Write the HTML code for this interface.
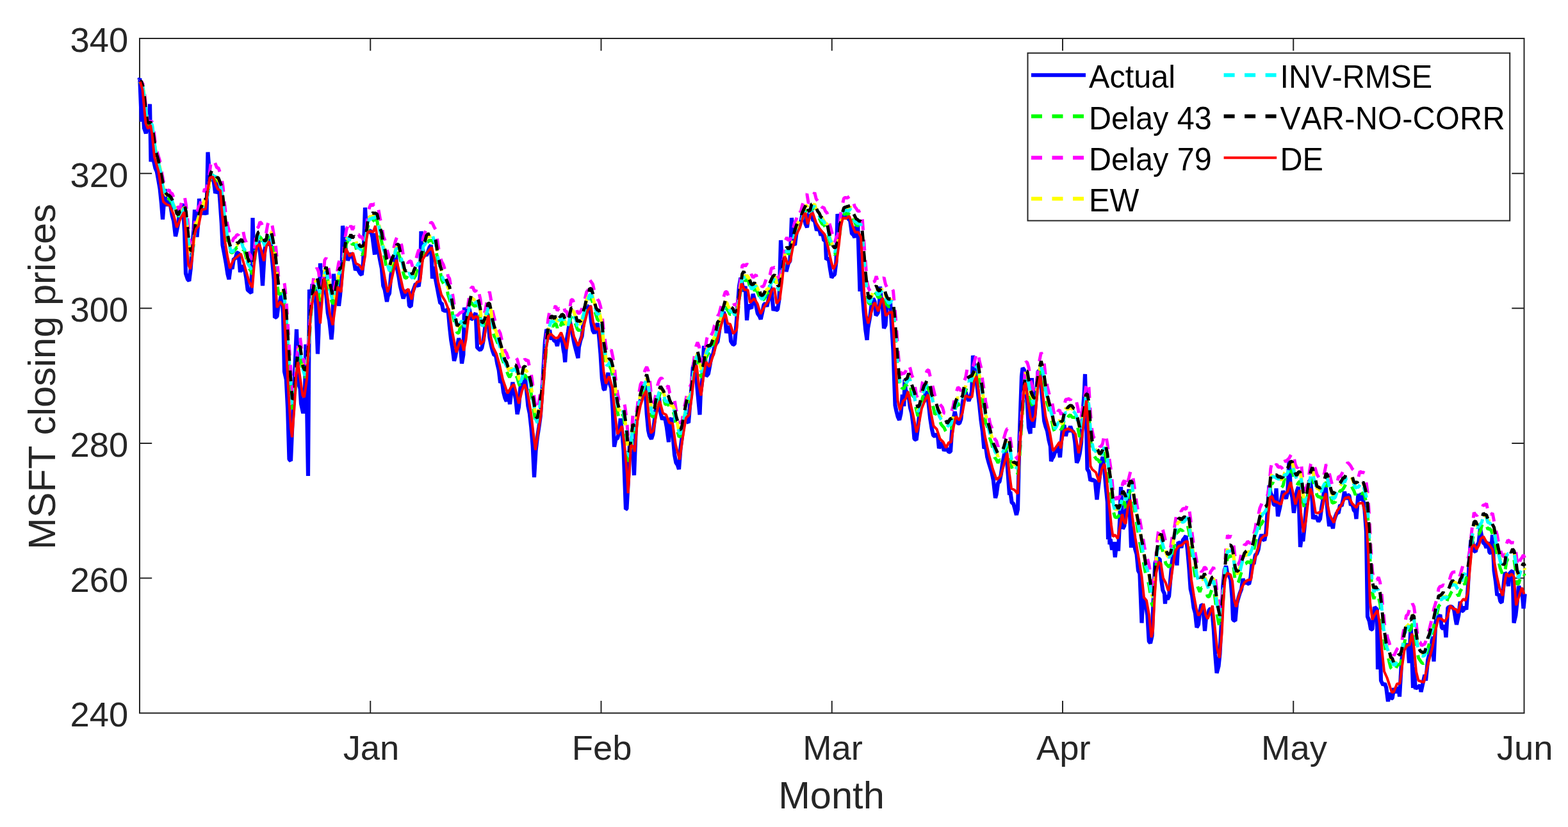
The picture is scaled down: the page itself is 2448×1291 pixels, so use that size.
<!DOCTYPE html>
<html lang="en"><head><meta charset="utf-8"><title>MSFT closing prices</title>
<style>html,body{margin:0;padding:0;background:#fff;}body{width:2448px;height:1291px;overflow:hidden;}svg{display:block;}text{font-family:"Liberation Sans",sans-serif;font-kerning:none;}</style></head><body>
<svg width="2448" height="1291" viewBox="0 0 2448 1291">
<rect x="0" y="0" width="2448" height="1291" fill="#ffffff"/>
<defs><clipPath id="clip"><rect x="212" y="60" width="2172.5" height="1053.2"/></clipPath></defs>
<g stroke="#262626" stroke-width="2" fill="none">
<rect x="218" y="60" width="2161.5" height="1053.2"/>
<path d="M578.25 1113.2 V1094 M578.25 60 V79.2"/>
<path d="M938.50 1113.2 V1094 M938.50 60 V79.2"/>
<path d="M1298.75 1113.2 V1094 M1298.75 60 V79.2"/>
<path d="M1659.00 1113.2 V1094 M1659.00 60 V79.2"/>
<path d="M2019.25 1113.2 V1094 M2019.25 60 V79.2"/>
<path d="M218 270.64 H237.2 M2379.5 270.64 H2360.3"/>
<path d="M218 481.28 H237.2 M2379.5 481.28 H2360.3"/>
<path d="M218 691.92 H237.2 M2379.5 691.92 H2360.3"/>
<path d="M218 902.56 H237.2 M2379.5 902.56 H2360.3"/>
</g>
<g clip-path="url(#clip)" fill="none" stroke-linejoin="bevel" stroke-linecap="butt">
<path d="M217.0 125.0 L218.3 122.3 L221.0 190.0 L223.1 167.5 L225.0 200.0 L227.9 208.2 L230.3 196.2 L232.7 188.6 L234.0 162.5 L235.5 252.5 L237.5 229.6 L239.9 251.1 L242.5 262.5 L244.8 267.7 L247.2 280.6 L249.6 294.5 L252.0 317.6 L254.0 342.5 L257.5 295.0 L259.2 321.7 L261.6 313.6 L264.0 318.1 L266.4 322.2 L268.8 336.5 L271.2 345.1 L274.0 369.0 L276.0 360.0 L278.4 347.8 L280.8 325.3 L283.2 323.2 L285.6 318.1 L288.1 362.3 L290.0 427.0 L292.9 435.9 L295.3 438.5 L297.7 419.4 L300.1 384.5 L302.5 358.2 L304.0 327.5 L307.5 370.0 L309.7 344.3 L311.0 310.0 L312.1 332.4 L314.5 330.7 L316.9 334.4 L319.3 328.1 L322.5 335.0 L324.5 237.5 L326.5 264.4 L328.9 276.0 L331.4 277.6 L333.8 283.6 L336.2 301.5 L338.6 296.7 L341.0 283.6 L343.4 313.3 L345.8 347.7 L347.5 382.5 L350.6 398.7 L353.0 412.0 L355.4 427.7 L357.5 436.0 L360.2 415.0 L362.6 419.8 L365.0 403.9 L367.4 403.9 L369.8 395.1 L372.2 394.0 L375.0 425.0 L377.1 414.1 L379.5 421.2 L381.9 419.8 L384.3 433.4 L386.7 452.6 L389.1 454.6 L392.5 457.5 L394.5 340.0 L396.3 403.8 L398.7 382.2 L401.1 374.2 L403.5 377.5 L405.9 393.7 L408.3 417.6 L410.0 446.0 L413.1 391.1 L415.5 380.2 L417.9 368.9 L420.3 382.3 L422.8 382.0 L425.2 408.4 L427.6 435.9 L429.0 496.0 L432.4 494.1 L434.8 475.6 L437.2 469.6 L439.6 458.3 L442.0 489.6 L444.0 580.0 L446.8 592.2 L449.2 639.1 L451.5 717.0 L454.0 719.4 L456.4 663.6 L458.8 614.9 L461.2 557.0 L463.0 514.0 L466.0 599.5 L468.5 606.5 L470.0 630.0 L473.3 645.2 L475.7 626.6 L477.5 537.5 L481.0 743.0 L483.0 452.0 L485.3 466.0 L487.7 443.6 L490.1 447.8 L492.5 454.3 L496.0 552.5 L497.3 521.7 L500.0 411.0 L502.1 454.2 L504.5 422.5 L506.9 441.2 L509.3 460.1 L511.8 488.6 L514.2 500.2 L517.5 530.0 L519.0 513.6 L521.0 427.5 L523.8 464.5 L526.2 442.5 L529.0 477.5 L531.0 461.1 L533.4 430.9 L535.0 352.5 L538.2 375.0 L540.6 395.5 L543.0 406.4 L545.4 401.0 L547.8 395.4 L550.2 399.3 L552.6 407.7 L555.0 422.0 L557.5 416.3 L559.9 422.7 L562.3 427.1 L564.7 429.1 L567.1 409.3 L570.0 324.0 L571.9 356.1 L574.3 363.0 L576.7 360.8 L579.1 360.3 L581.5 369.9 L585.0 397.5 L586.3 364.2 L588.7 379.8 L591.1 394.1 L593.5 407.4 L595.9 419.2 L598.3 446.2 L600.7 452.4 L604.0 471.0 L605.6 462.4 L608.0 457.8 L610.4 429.0 L612.8 418.7 L615.2 404.0 L617.6 396.3 L620.0 419.4 L622.4 431.0 L624.8 446.3 L627.2 456.0 L629.6 466.0 L632.0 458.7 L634.4 454.2 L636.8 454.1 L639.0 477.5 L641.6 478.5 L644.0 456.3 L646.5 449.6 L648.9 443.2 L651.3 444.1 L653.7 447.1 L656.1 428.5 L657.5 361.0 L660.9 398.7 L663.3 396.3 L665.7 399.1 L668.1 393.3 L670.5 386.3 L672.9 382.8 L675.0 435.0 L677.7 416.1 L680.1 436.3 L682.5 448.8 L684.9 461.6 L687.3 473.3 L689.7 473.3 L692.2 485.5 L694.6 484.3 L697.0 486.1 L699.4 481.8 L701.8 508.9 L704.2 530.6 L706.6 544.5 L709.0 563.4 L711.0 556.0 L713.8 540.5 L716.2 528.1 L718.6 536.9 L721.0 567.5 L723.4 553.5 L725.0 480.0 L728.2 498.9 L730.6 480.9 L733.0 483.3 L735.4 498.9 L737.9 496.8 L740.3 492.6 L742.7 488.6 L745.0 542.5 L747.5 544.6 L749.9 546.6 L752.3 543.0 L754.7 531.1 L757.1 512.5 L759.5 488.5 L761.9 493.8 L764.3 526.2 L766.7 538.5 L769.1 548.0 L771.5 554.3 L773.9 554.1 L776.3 567.7 L778.7 577.5 L781.1 597.6 L783.6 594.0 L786.0 611.9 L788.4 621.2 L790.8 626.6 L793.2 608.7 L796.0 631.0 L798.0 614.0 L800.4 596.8 L802.8 610.2 L805.2 623.5 L807.6 646.6 L810.0 635.0 L812.4 605.5 L814.8 600.3 L817.2 585.6 L819.6 588.8 L822.0 608.6 L824.4 633.9 L826.9 645.6 L829.3 667.2 L831.7 696.0 L834.0 745.0 L836.5 703.3 L838.9 682.6 L841.3 667.2 L843.7 650.0 L846.1 615.6 L848.5 573.8 L850.9 533.3 L853.3 514.2 L855.7 519.1 L858.1 515.2 L860.5 530.1 L862.9 524.8 L865.3 532.2 L867.7 532.5 L870.0 540.0 L872.6 528.9 L875.0 527.4 L877.4 529.5 L879.8 546.8 L881.0 552.5 L882.2 565.4 L884.6 530.8 L887.0 517.5 L889.4 501.2 L891.8 511.2 L894.2 523.6 L896.6 536.5 L899.0 545.7 L902.5 559.0 L903.8 542.1 L906.2 531.5 L908.6 524.7 L911.0 502.5 L913.4 492.1 L915.8 475.7 L918.3 487.2 L920.7 476.6 L923.1 502.4 L925.5 516.0 L927.9 520.2 L930.3 514.5 L932.7 504.4 L935.1 524.6 L937.5 552.3 L939.9 591.6 L942.3 606.6 L944.0 609.0 L947.1 592.5 L949.5 582.0 L951.9 599.0 L954.3 605.3 L956.7 640.5 L959.0 697.5 L961.5 684.9 L964.0 684.6 L966.4 675.2 L968.8 653.4 L971.2 673.7 L973.6 703.7 L977.0 795.0 L978.4 794.3 L980.8 750.6 L983.2 687.7 L985.6 701.2 L988.0 706.8 L990.0 742.0 L992.8 668.2 L995.2 644.3 L997.6 629.5 L1000.0 624.7 L1002.4 614.4 L1004.8 601.0 L1007.3 603.5 L1009.7 645.9 L1012.1 671.8 L1014.0 680.0 L1016.9 685.4 L1019.3 678.0 L1021.7 657.2 L1024.1 634.2 L1026.5 632.5 L1028.9 620.6 L1031.3 644.4 L1034.0 655.0 L1036.1 651.4 L1038.5 654.4 L1040.9 667.0 L1044.0 690.0 L1045.7 657.4 L1048.1 652.2 L1050.5 680.1 L1053.0 709.6 L1055.4 722.2 L1057.8 725.8 L1060.0 732.5 L1062.6 698.6 L1065.0 680.7 L1067.4 660.8 L1069.8 652.9 L1072.2 657.2 L1075.0 660.0 L1077.0 634.0 L1079.4 607.8 L1081.8 573.9 L1084.2 564.2 L1086.6 583.8 L1089.0 610.9 L1092.5 647.5 L1093.8 614.7 L1096.2 595.2 L1099.0 540.0 L1101.1 559.7 L1102.5 587.5 L1105.9 583.5 L1108.3 570.4 L1110.7 555.4 L1113.1 553.4 L1115.5 541.1 L1117.9 536.7 L1120.3 533.5 L1122.7 518.5 L1125.1 500.2 L1127.5 488.7 L1129.9 487.0 L1132.3 496.8 L1134.0 520.0 L1137.1 509.3 L1139.5 513.7 L1141.0 532.5 L1144.4 537.9 L1146.8 537.3 L1149.2 511.1 L1151.6 478.0 L1154.0 446.7 L1156.4 433.6 L1158.8 444.2 L1161.2 455.0 L1163.6 446.8 L1166.0 500.0 L1168.4 475.9 L1170.8 478.7 L1173.2 481.7 L1175.6 458.9 L1178.0 467.3 L1180.4 477.3 L1182.8 489.2 L1186.0 494.0 L1187.7 498.3 L1190.1 487.9 L1192.5 475.8 L1194.9 473.6 L1197.3 478.5 L1199.7 468.0 L1202.1 445.6 L1204.5 454.6 L1207.5 485.0 L1209.3 479.3 L1211.7 484.5 L1214.1 482.9 L1216.5 466.7 L1219.0 375.0 L1221.3 411.0 L1223.7 400.3 L1226.1 404.6 L1227.5 424.0 L1230.9 411.0 L1233.4 407.4 L1236.0 340.0 L1238.2 379.9 L1241.0 382.5 L1243.0 366.6 L1245.4 357.3 L1247.8 353.3 L1250.2 346.7 L1252.6 334.7 L1255.0 332.5 L1257.4 349.2 L1260.0 355.0 L1262.2 338.9 L1264.6 327.5 L1267.0 330.0 L1269.4 344.4 L1271.8 343.9 L1275.0 360.0 L1276.6 356.9 L1279.1 358.0 L1281.5 367.6 L1283.9 362.5 L1286.3 375.4 L1288.7 375.5 L1290.0 405.0 L1293.5 403.0 L1296.0 420.0 L1298.3 433.4 L1300.7 429.9 L1303.1 428.5 L1305.5 408.7 L1307.5 334.0 L1310.3 352.5 L1312.7 340.4 L1315.1 340.8 L1317.5 336.3 L1319.9 341.2 L1322.4 330.9 L1324.8 342.2 L1327.2 344.2 L1330.0 365.0 L1332.0 365.7 L1334.4 370.9 L1336.8 354.1 L1339.2 350.2 L1342.5 455.0 L1344.0 394.9 L1346.4 458.6 L1348.8 488.2 L1351.2 514.3 L1353.6 530.7 L1355.0 512.5 L1358.4 494.0 L1360.8 474.2 L1363.2 465.8 L1365.6 470.7 L1367.5 492.5 L1370.5 488.7 L1372.9 473.7 L1374.0 447.5 L1375.3 462.6 L1377.7 474.6 L1380.0 512.5 L1382.5 507.3 L1385.0 470.0 L1387.3 479.4 L1389.7 467.1 L1392.5 515.0 L1394.5 547.1 L1397.5 632.5 L1399.3 641.2 L1401.7 650.6 L1404.1 655.6 L1406.5 645.2 L1408.9 615.9 L1411.3 634.2 L1412.5 592.5 L1413.8 609.0 L1416.2 613.1 L1418.6 618.7 L1421.0 636.5 L1423.4 645.5 L1425.8 664.2 L1427.5 685.0 L1430.6 686.9 L1433.0 667.7 L1435.4 646.4 L1437.8 627.1 L1440.2 626.7 L1442.6 627.4 L1445.0 614.0 L1447.4 611.7 L1449.8 630.6 L1452.2 653.2 L1454.6 668.5 L1457.0 679.4 L1459.5 681.5 L1461.9 676.9 L1464.3 682.9 L1466.0 700.0 L1469.1 690.6 L1471.5 695.1 L1473.9 703.7 L1476.3 699.3 L1478.7 700.9 L1481.1 705.6 L1484.0 705.0 L1485.9 676.3 L1488.3 654.9 L1490.7 642.7 L1493.1 653.9 L1495.5 660.9 L1497.9 660.9 L1500.3 654.0 L1502.8 628.7 L1505.2 616.6 L1507.6 611.9 L1510.0 620.5 L1512.4 625.8 L1514.8 619.8 L1517.2 611.0 L1519.0 555.0 L1522.0 577.3 L1524.4 592.8 L1526.8 613.3 L1529.2 633.3 L1531.6 656.6 L1534.0 673.7 L1536.4 700.1 L1538.8 695.9 L1541.2 713.1 L1543.6 722.0 L1546.0 729.9 L1548.5 738.2 L1550.9 750.0 L1554.0 777.5 L1555.7 771.4 L1558.1 753.9 L1560.5 751.8 L1562.9 740.2 L1565.3 722.5 L1567.7 710.8 L1570.1 700.1 L1572.5 724.5 L1576.0 772.5 L1577.3 767.5 L1579.7 784.8 L1582.1 786.0 L1584.5 794.5 L1586.9 803.9 L1589.0 795.0 L1591.7 680.8 L1595.0 587.5 L1596.6 574.5 L1599.0 577.6 L1601.4 600.3 L1603.8 629.2 L1606.0 667.5 L1608.6 676.9 L1611.0 590.0 L1613.4 667.7 L1615.8 644.2 L1618.2 609.9 L1620.6 579.4 L1623.0 579.0 L1625.4 601.6 L1627.8 629.3 L1630.2 657.1 L1632.6 666.1 L1635.0 672.6 L1637.5 687.1 L1639.9 696.8 L1641.0 720.0 L1642.3 716.2 L1644.7 712.5 L1647.1 705.9 L1649.5 702.8 L1651.9 695.4 L1655.0 714.0 L1656.7 691.5 L1659.1 667.2 L1661.5 663.7 L1663.9 680.9 L1666.3 670.5 L1668.7 674.1 L1671.1 665.4 L1673.5 672.6 L1675.9 673.9 L1678.3 690.0 L1681.0 722.5 L1683.2 717.9 L1685.6 708.6 L1688.0 691.7 L1690.4 644.8 L1692.8 613.6 L1694.0 584.0 L1695.2 626.2 L1697.5 732.5 L1700.0 736.2 L1702.4 750.5 L1704.8 748.3 L1707.2 750.2 L1709.6 749.7 L1712.5 780.0 L1714.4 762.5 L1716.8 744.7 L1719.2 722.8 L1721.6 713.2 L1724.0 730.5 L1726.4 759.3 L1728.9 783.7 L1730.0 842.0 L1731.3 812.9 L1732.5 850.0 L1733.7 841.6 L1736.1 858.4 L1738.5 846.0 L1740.9 870.0 L1743.3 846.1 L1746.0 860.0 L1748.1 814.0 L1750.0 760.0 L1752.9 825.7 L1755.3 820.9 L1757.7 797.4 L1760.1 788.7 L1762.5 763.7 L1766.0 855.0 L1767.3 822.4 L1769.7 840.8 L1772.1 856.8 L1774.6 865.5 L1777.0 890.8 L1779.4 895.3 L1782.5 972.5 L1784.2 938.3 L1786.6 935.4 L1789.0 945.7 L1791.4 960.6 L1793.8 1001.1 L1796.0 1004.0 L1798.6 992.5 L1801.0 929.4 L1803.4 879.0 L1805.8 872.9 L1808.2 872.3 L1810.6 872.5 L1813.0 904.3 L1815.4 921.5 L1817.9 926.6 L1819.0 942.5 L1820.3 929.2 L1822.7 935.7 L1825.1 930.7 L1827.5 902.1 L1829.9 876.4 L1832.3 862.0 L1834.7 857.0 L1837.5 882.5 L1839.5 846.1 L1841.9 848.1 L1844.3 855.2 L1846.7 843.3 L1849.1 840.3 L1851.5 836.5 L1853.9 857.8 L1856.3 885.3 L1858.7 919.5 L1861.1 929.6 L1863.6 948.6 L1866.0 957.3 L1868.4 979.3 L1871.0 975.0 L1873.2 955.3 L1875.6 944.0 L1878.0 945.0 L1881.0 985.0 L1882.8 966.1 L1885.2 962.4 L1887.6 952.4 L1890.0 950.1 L1892.4 954.6 L1894.8 982.2 L1897.2 1021.2 L1899.6 1050.8 L1902.5 1040.0 L1904.4 1021.3 L1906.8 974.5 L1909.3 914.9 L1911.7 890.1 L1914.1 883.5 L1916.5 896.7 L1918.9 898.7 L1921.3 904.7 L1923.7 934.0 L1925.0 967.5 L1928.5 969.3 L1930.9 942.5 L1933.3 933.7 L1935.7 925.9 L1938.1 919.8 L1940.5 903.4 L1942.9 911.5 L1945.3 906.6 L1947.7 910.4 L1950.1 911.9 L1952.5 901.2 L1955.0 874.4 L1957.4 880.6 L1959.8 866.7 L1962.2 864.3 L1964.6 857.9 L1967.0 842.2 L1969.4 834.3 L1971.8 841.7 L1974.2 843.6 L1976.6 830.3 L1979.0 794.8 L1981.4 757.7 L1983.8 770.1 L1986.2 774.2 L1988.6 787.6 L1991.0 788.1 L1992.5 762.5 L1995.0 806.0 L1998.3 791.7 L2000.7 777.9 L2003.1 766.5 L2005.5 772.4 L2007.9 778.6 L2010.3 768.6 L2012.5 719.0 L2015.1 765.0 L2017.5 776.1 L2019.9 800.8 L2022.3 784.6 L2024.7 766.8 L2027.1 760.0 L2030.0 854.0 L2031.9 839.4 L2034.3 844.8 L2036.7 822.1 L2039.1 793.5 L2041.5 779.6 L2044.0 750.7 L2046.0 750.0 L2048.8 782.5 L2050.0 810.0 L2051.2 807.8 L2053.6 805.5 L2056.0 809.1 L2058.4 814.1 L2061.0 810.0 L2063.2 793.1 L2065.6 779.6 L2068.0 757.9 L2070.0 762.5 L2072.8 801.0 L2075.2 821.5 L2077.6 811.8 L2081.0 825.0 L2082.4 813.9 L2084.8 806.4 L2087.2 800.3 L2089.7 800.8 L2092.1 788.4 L2094.5 790.1 L2096.9 779.7 L2099.0 767.5 L2101.7 779.6 L2104.1 772.2 L2106.5 774.0 L2108.9 788.7 L2111.3 787.0 L2113.7 796.5 L2116.1 799.1 L2117.5 810.0 L2120.5 771.0 L2123.3 781.1 L2125.7 769.6 L2128.1 779.6 L2130.5 795.5 L2133.0 830.1 L2135.0 962.5 L2137.8 969.5 L2140.2 982.8 L2142.6 982.1 L2146.0 947.5 L2147.4 949.2 L2149.8 951.2 L2151.0 1045.0 L2152.2 972.6 L2154.6 1007.7 L2156.0 1062.5 L2159.4 1069.5 L2161.8 1066.9 L2164.2 1073.3 L2167.0 1095.0 L2169.0 1081.5 L2172.0 1091.0 L2173.8 1089.4 L2176.2 1074.3 L2178.7 1081.5 L2181.1 1076.1 L2183.5 1073.7 L2185.0 1087.5 L2188.3 1030.5 L2190.7 1010.5 L2193.1 1006.1 L2195.5 1010.0 L2197.9 1004.8 L2200.0 1035.0 L2202.7 975.2 L2206.0 1074.0 L2207.5 1041.5 L2209.9 1075.9 L2212.3 1070.5 L2214.7 1074.8 L2217.1 1068.9 L2218.5 1080.0 L2221.9 1064.5 L2224.4 1053.5 L2226.0 1062.5 L2229.2 1030.0 L2231.6 1021.3 L2234.0 1015.1 L2236.4 993.6 L2238.5 1032.5 L2241.2 972.3 L2243.6 962.4 L2246.0 964.0 L2248.4 959.5 L2250.8 979.4 L2253.2 981.6 L2255.6 976.0 L2257.5 995.0 L2260.4 948.8 L2262.8 947.5 L2265.2 946.7 L2267.6 948.2 L2270.1 951.7 L2272.5 966.9 L2274.0 975.0 L2277.3 960.2 L2279.7 939.1 L2282.1 954.4 L2285.0 952.5 L2286.9 947.1 L2289.3 951.5 L2291.7 918.8 L2294.1 870.6 L2296.5 843.1 L2298.9 846.6 L2301.3 859.9 L2303.7 861.3 L2306.1 850.8 L2308.5 847.4 L2311.0 825.0 L2313.4 837.5 L2315.8 847.4 L2318.2 849.4 L2320.6 855.2 L2323.0 846.1 L2325.4 862.4 L2327.8 863.6 L2330.0 835.0 L2332.6 891.0 L2335.0 907.2 L2337.4 929.6 L2339.8 926.6 L2342.2 938.0 L2343.5 940.0 L2344.6 940.7 L2347.0 918.8 L2349.4 893.8 L2351.8 897.5 L2355.0 915.0 L2356.6 895.5 L2359.1 892.8 L2361.5 890.8 L2363.5 972.5 L2366.3 960.8 L2368.7 939.0 L2371.0 915.0 L2373.5 920.4 L2375.9 918.7 L2378.5 950.0 L2380.7 927.1" stroke="#0000ff" stroke-width="6.2"/>
<path d="M218.3 128.0 L220.7 131.1 L223.1 137.8 L225.5 152.7 L227.9 179.5 L230.3 194.1 L232.7 194.6 L235.1 194.3 L237.5 198.1 L239.9 216.2 L242.4 235.0 L244.8 248.4 L247.2 254.3 L249.6 265.2 L252.0 278.6 L254.4 295.0 L256.8 303.2 L259.2 307.6 L261.6 309.0 L264.0 310.3 L266.4 313.8 L268.8 316.6 L271.2 325.4 L273.6 331.7 L276.0 335.5 L278.4 337.4 L280.8 336.6 L283.2 334.1 L285.6 329.4 L288.1 326.9 L290.5 344.4 L292.9 366.1 L295.3 388.2 L297.7 400.9 L300.1 398.3 L302.5 377.9 L304.9 353.7 L307.3 346.3 L309.7 344.1 L312.1 338.1 L314.5 324.4 L316.9 320.6 L319.3 315.8 L321.7 315.1 L324.1 303.9 L326.5 290.0 L328.9 276.1 L331.4 272.8 L333.8 275.3 L336.2 277.9 L338.6 283.2 L341.0 285.4 L343.4 291.5 L345.8 300.0 L348.2 321.5 L350.6 341.8 L353.0 362.1 L355.4 375.5 L357.8 383.6 L360.2 393.7 L362.6 394.8 L365.0 391.9 L367.4 389.5 L369.8 386.0 L372.2 386.4 L374.6 384.3 L377.1 382.5 L379.5 389.6 L381.9 391.6 L384.3 402.0 L386.7 414.5 L389.1 419.1 L391.5 422.6 L393.9 428.2 L396.3 418.4 L398.7 395.8 L401.1 376.8 L403.5 370.0 L405.9 369.7 L408.3 372.7 L410.7 383.6 L413.1 387.8 L415.5 380.4 L417.9 370.6 L420.3 370.4 L422.8 370.9 L425.2 381.0 L427.6 394.6 L430.0 410.2 L432.4 440.4 L434.8 458.9 L437.2 458.9 L439.6 457.8 L442.0 462.0 L444.4 476.2 L446.8 497.7 L449.2 539.5 L451.6 578.2 L454.0 610.1 L456.4 639.1 L458.8 631.6 L461.2 606.4 L463.6 571.6 L466.0 555.0 L468.5 555.5 L470.9 569.7 L473.3 584.4 L475.7 588.9 L478.1 587.1 L480.5 560.0 L482.9 528.8 L485.3 491.9 L487.7 468.7 L490.1 456.4 L492.5 447.6 L494.9 445.3 L497.3 454.1 L499.7 469.1 L502.1 468.8 L504.5 452.7 L506.9 432.3 L509.3 428.4 L511.8 437.5 L514.2 455.0 L516.6 467.3 L519.0 472.9 L521.4 473.9 L523.8 463.7 L526.2 446.8 L528.6 433.8 L531.0 428.9 L533.4 429.7 L535.8 417.9 L538.2 397.0 L540.6 380.8 L543.0 376.4 L545.4 382.1 L547.8 376.0 L550.2 382.2 L552.6 379.8 L555.0 382.9 L557.5 393.9 L559.9 391.5 L562.3 395.2 L564.7 397.7 L567.1 395.9 L569.5 388.1 L571.9 373.8 L574.3 353.8 L576.7 344.0 L579.1 347.7 L581.5 345.4 L583.9 343.2 L586.3 342.9 L588.7 344.0 L591.1 360.5 L593.5 367.9 L595.9 377.5 L598.3 392.5 L600.7 402.7 L603.2 417.7 L605.6 422.2 L608.0 426.7 L610.4 420.4 L612.8 415.6 L615.2 409.0 L617.6 402.0 L620.0 394.2 L622.4 396.3 L624.8 403.2 L627.2 413.8 L629.6 425.8 L632.0 433.5 L634.4 434.4 L636.8 430.1 L639.2 433.8 L641.6 436.8 L644.0 438.3 L646.5 433.8 L648.9 430.2 L651.3 420.4 L653.7 416.5 L656.1 416.8 L658.5 412.0 L660.9 394.0 L663.3 383.8 L665.7 379.5 L668.1 377.6 L670.5 374.8 L672.9 376.1 L675.3 374.8 L677.7 383.5 L680.1 389.6 L682.5 400.0 L684.9 416.8 L687.3 424.2 L689.7 437.5 L692.2 442.0 L694.6 445.7 L697.0 446.6 L699.4 460.0 L701.8 466.8 L704.2 474.7 L706.6 490.6 L709.0 500.0 L711.4 513.0 L713.8 519.6 L716.2 519.9 L718.6 510.8 L721.0 509.5 L723.4 512.7 L725.8 515.1 L728.2 511.0 L730.6 494.0 L733.0 482.2 L735.4 472.0 L737.9 474.9 L740.3 477.7 L742.7 477.5 L745.1 476.7 L747.5 481.0 L749.9 498.8 L752.3 516.0 L754.7 513.0 L757.1 507.8 L759.5 494.9 L761.9 485.0 L764.3 486.9 L766.7 496.2 L769.1 515.1 L771.5 524.5 L773.9 528.1 L776.3 534.2 L778.7 538.9 L781.1 549.9 L783.6 558.9 L786.0 565.3 L788.4 576.2 L790.8 578.3 L793.2 585.0 L795.6 589.0 L798.0 584.3 L800.4 584.5 L802.8 578.8 L805.2 585.7 L807.6 590.0 L810.0 598.5 L812.4 604.9 L814.8 596.1 L817.2 586.3 L819.6 585.5 L822.0 588.9 L824.4 592.3 L826.9 602.1 L829.3 614.8 L831.7 631.2 L834.1 644.7 L836.5 662.5 L838.9 665.0 L841.3 648.7 L843.7 632.2 L846.1 621.4 L848.5 594.6 L850.9 568.2 L853.3 542.4 L855.7 520.7 L858.1 510.2 L860.5 506.4 L862.9 509.6 L865.3 507.3 L867.7 504.4 L870.1 511.9 L872.6 502.7 L875.0 509.2 L877.4 500.9 L879.8 504.0 L882.2 513.4 L884.6 514.4 L887.0 512.9 L889.4 503.2 L891.8 493.9 L894.2 491.8 L896.6 500.8 L899.0 507.1 L901.4 513.9 L903.8 516.3 L906.2 514.0 L908.6 506.0 L911.0 495.4 L913.4 487.5 L915.8 477.3 L918.3 473.8 L920.7 462.8 L923.1 465.8 L925.5 472.9 L927.9 483.7 L930.3 490.8 L932.7 498.5 L935.1 500.5 L937.5 505.1 L939.9 518.5 L942.3 545.8 L944.7 560.4 L947.1 575.7 L949.5 573.9 L951.9 571.9 L954.3 576.9 L956.7 586.1 L959.1 604.7 L961.5 624.9 L964.0 642.8 L966.4 654.1 L968.8 646.3 L971.2 645.9 L973.6 650.1 L976.0 669.1 L978.4 686.2 L980.8 720.7 L983.2 717.1 L985.6 693.8 L988.0 672.1 L990.4 676.1 L992.8 668.2 L995.2 652.3 L997.6 633.0 L1000.0 622.9 L1002.4 615.6 L1004.8 609.3 L1007.3 600.6 L1009.7 599.3 L1012.1 611.1 L1014.5 628.4 L1016.9 648.7 L1019.3 650.8 L1021.7 649.3 L1024.1 635.7 L1026.5 626.6 L1028.9 619.5 L1031.3 611.1 L1033.7 618.6 L1036.1 619.8 L1038.5 631.2 L1040.9 631.1 L1043.3 630.6 L1045.7 637.9 L1048.1 643.4 L1050.5 641.3 L1053.0 648.6 L1055.4 663.4 L1057.8 674.0 L1060.2 682.3 L1062.6 680.4 L1065.0 675.8 L1067.4 661.2 L1069.8 648.7 L1072.2 635.6 L1074.6 630.4 L1077.0 624.6 L1079.4 619.2 L1081.8 596.5 L1084.2 575.4 L1086.6 564.5 L1089.0 559.8 L1091.4 571.0 L1093.8 586.3 L1096.2 589.3 L1098.7 577.9 L1101.1 560.8 L1103.5 556.1 L1105.9 551.4 L1108.3 554.1 L1110.7 542.5 L1113.1 538.1 L1115.5 534.6 L1117.9 523.9 L1120.3 512.8 L1122.7 509.8 L1125.1 504.0 L1127.5 492.4 L1129.9 488.0 L1132.3 478.9 L1134.7 482.7 L1137.1 485.5 L1139.5 490.8 L1142.0 490.5 L1144.4 493.4 L1146.8 496.5 L1149.2 497.9 L1151.6 491.9 L1154.0 470.1 L1156.4 452.2 L1158.8 436.6 L1161.2 434.8 L1163.6 438.6 L1166.0 436.5 L1168.4 438.0 L1170.8 449.4 L1173.2 455.7 L1175.6 451.7 L1178.0 453.0 L1180.4 452.0 L1182.8 456.4 L1185.2 461.9 L1187.7 471.8 L1190.1 467.3 L1192.5 467.7 L1194.9 463.3 L1197.3 456.6 L1199.7 457.8 L1202.1 447.3 L1204.5 439.1 L1206.9 439.3 L1209.3 435.7 L1211.7 441.9 L1214.1 453.5 L1216.5 455.3 L1218.9 447.5 L1221.3 428.7 L1223.7 416.0 L1226.1 397.4 L1228.5 393.0 L1230.9 396.5 L1233.4 395.2 L1235.8 391.6 L1238.2 378.6 L1240.6 366.7 L1243.0 363.3 L1245.4 351.9 L1247.8 348.9 L1250.2 345.3 L1252.6 342.4 L1255.0 332.6 L1257.4 329.6 L1259.8 325.8 L1262.2 335.8 L1264.6 334.1 L1267.0 327.6 L1269.4 324.8 L1271.8 323.2 L1274.2 330.1 L1276.6 336.8 L1279.1 340.3 L1281.5 346.2 L1283.9 350.0 L1286.3 350.8 L1288.7 355.7 L1291.1 356.2 L1293.5 369.6 L1295.9 379.3 L1298.3 388.9 L1300.7 394.9 L1303.1 397.6 L1305.5 393.4 L1307.9 386.1 L1310.3 371.1 L1312.7 351.8 L1315.1 340.7 L1317.5 335.4 L1319.9 330.3 L1322.4 334.7 L1324.8 334.0 L1327.2 329.2 L1329.6 336.2 L1332.0 341.4 L1334.4 346.2 L1336.8 351.7 L1339.2 352.0 L1341.6 352.7 L1344.0 353.9 L1346.4 374.8 L1348.8 409.6 L1351.2 438.8 L1353.6 461.4 L1356.0 472.8 L1358.4 474.9 L1360.8 470.2 L1363.2 460.9 L1365.6 460.0 L1368.1 457.6 L1370.5 463.8 L1372.9 464.4 L1375.3 461.6 L1377.7 459.1 L1380.1 457.7 L1382.5 474.4 L1384.9 474.5 L1387.3 478.9 L1389.7 478.5 L1392.1 475.4 L1394.5 482.9 L1396.9 511.5 L1399.3 544.4 L1401.7 581.9 L1404.1 602.1 L1406.5 610.5 L1408.9 605.7 L1411.3 607.1 L1413.8 599.8 L1416.2 601.5 L1418.6 596.0 L1421.0 600.4 L1423.4 616.6 L1425.8 617.7 L1428.2 629.2 L1430.6 639.4 L1433.0 649.8 L1435.4 642.2 L1437.8 634.1 L1440.2 621.1 L1442.6 615.0 L1445.0 607.6 L1447.4 603.2 L1449.8 608.5 L1452.2 613.1 L1454.6 626.4 L1457.0 635.1 L1459.5 647.1 L1461.9 645.1 L1464.3 650.2 L1466.7 655.7 L1469.1 661.9 L1471.5 665.1 L1473.9 667.5 L1476.3 672.9 L1478.7 677.0 L1481.1 668.7 L1483.5 668.5 L1485.9 668.4 L1488.3 653.7 L1490.7 639.7 L1493.1 633.5 L1495.5 629.1 L1497.9 634.4 L1500.3 633.5 L1502.8 628.7 L1505.2 614.7 L1507.6 610.2 L1510.0 603.3 L1512.4 602.7 L1514.8 601.0 L1517.2 601.8 L1519.6 596.9 L1522.0 585.6 L1524.4 578.2 L1526.8 580.0 L1529.2 598.0 L1531.6 609.1 L1534.0 623.1 L1536.4 641.2 L1538.8 659.7 L1541.2 665.2 L1543.6 677.3 L1546.0 685.8 L1548.5 692.7 L1550.9 706.0 L1553.3 714.5 L1555.7 717.8 L1558.1 722.5 L1560.5 717.9 L1562.9 718.5 L1565.3 715.2 L1567.7 708.6 L1570.1 702.7 L1572.5 695.6 L1574.9 696.9 L1577.3 714.2 L1579.7 729.6 L1582.1 738.4 L1584.5 735.9 L1586.9 735.8 L1589.3 740.2 L1591.7 717.3 L1594.2 675.4 L1596.6 641.3 L1599.0 612.5 L1601.4 584.9 L1603.8 592.1 L1606.2 606.4 L1608.6 623.2 L1611.0 631.2 L1613.4 637.4 L1615.8 633.4 L1618.2 622.7 L1620.6 599.0 L1623.0 583.1 L1625.4 579.3 L1627.8 586.5 L1630.2 597.5 L1632.6 616.6 L1635.0 630.4 L1637.5 637.7 L1639.9 649.5 L1642.3 657.8 L1644.7 669.3 L1647.1 675.4 L1649.5 672.2 L1651.9 667.7 L1654.3 668.4 L1656.7 670.4 L1659.1 666.8 L1661.5 654.0 L1663.9 648.7 L1666.3 653.0 L1668.7 649.2 L1671.1 647.6 L1673.5 651.2 L1675.9 651.4 L1678.3 651.4 L1680.7 655.7 L1683.2 670.4 L1685.6 682.2 L1688.0 672.1 L1690.4 661.1 L1692.8 645.3 L1695.2 627.2 L1697.6 626.9 L1700.0 644.5 L1702.4 684.0 L1704.8 704.3 L1707.2 710.0 L1709.6 713.8 L1712.0 717.0 L1714.4 717.6 L1716.8 722.2 L1719.2 717.9 L1721.6 713.6 L1724.0 705.1 L1726.4 714.6 L1728.9 728.1 L1731.3 746.8 L1733.7 763.1 L1736.1 786.7 L1738.5 799.3 L1740.9 807.6 L1743.3 807.8 L1745.7 806.6 L1748.1 802.0 L1750.5 793.1 L1752.9 784.3 L1755.3 783.5 L1757.7 793.1 L1760.1 783.9 L1762.5 771.9 L1764.9 765.6 L1767.3 768.0 L1769.7 785.4 L1772.1 800.0 L1774.6 816.7 L1777.0 832.2 L1779.4 846.5 L1781.8 858.6 L1784.2 871.8 L1786.6 885.0 L1789.0 897.8 L1791.4 904.3 L1793.8 913.3 L1796.2 929.3 L1798.6 944.1 L1801.0 945.9 L1803.4 909.1 L1805.8 876.6 L1808.2 857.6 L1810.6 853.3 L1813.0 852.0 L1815.4 860.5 L1817.9 872.3 L1820.3 880.2 L1822.7 882.6 L1825.1 885.3 L1827.5 881.4 L1829.9 867.1 L1832.3 858.8 L1834.7 842.0 L1837.1 831.7 L1839.5 830.3 L1841.9 826.3 L1844.3 827.3 L1846.7 828.7 L1849.1 824.0 L1851.5 825.2 L1853.9 819.0 L1856.3 830.4 L1858.7 847.4 L1861.1 873.2 L1863.6 884.4 L1866.0 899.8 L1868.4 911.3 L1870.8 918.4 L1873.2 924.1 L1875.6 917.5 L1878.0 917.9 L1880.4 917.9 L1882.8 922.1 L1885.2 931.1 L1887.6 931.7 L1890.0 925.9 L1892.4 918.9 L1894.8 917.6 L1897.2 935.8 L1899.6 956.9 L1902.0 969.4 L1904.4 980.9 L1906.8 965.1 L1909.3 942.1 L1911.7 910.9 L1914.1 882.5 L1916.5 869.8 L1918.9 869.8 L1921.3 866.4 L1923.7 877.7 L1926.1 886.5 L1928.5 908.0 L1930.9 912.7 L1933.3 908.9 L1935.7 901.5 L1938.1 893.1 L1940.5 884.8 L1942.9 880.9 L1945.3 879.7 L1947.7 876.8 L1950.1 877.8 L1952.5 879.1 L1955.0 867.6 L1957.4 859.7 L1959.8 846.6 L1962.2 838.7 L1964.6 830.6 L1967.0 820.4 L1969.4 818.0 L1971.8 813.5 L1974.2 811.4 L1976.6 806.5 L1979.0 800.1 L1981.4 782.5 L1983.8 756.7 L1986.2 754.1 L1988.6 754.7 L1991.0 756.0 L1993.4 757.1 L1995.8 756.1 L1998.3 759.0 L2000.7 761.3 L2003.1 758.1 L2005.5 747.8 L2007.9 751.1 L2010.3 746.7 L2012.7 742.4 L2015.1 735.9 L2017.5 733.8 L2019.9 745.4 L2022.3 755.0 L2024.7 757.8 L2027.1 753.5 L2029.5 751.1 L2031.9 761.4 L2034.3 783.5 L2036.7 794.0 L2039.1 787.6 L2041.5 776.5 L2044.0 761.2 L2046.4 747.8 L2048.8 745.2 L2051.2 755.7 L2053.6 761.3 L2056.0 773.0 L2058.4 775.8 L2060.8 775.4 L2063.2 778.5 L2065.6 766.9 L2068.0 758.8 L2070.4 752.4 L2072.8 758.8 L2075.2 766.4 L2077.6 775.8 L2080.0 785.3 L2082.4 784.6 L2084.8 783.7 L2087.2 774.7 L2089.7 772.4 L2092.1 766.1 L2094.5 765.8 L2096.9 763.3 L2099.3 759.3 L2101.7 754.3 L2104.1 753.0 L2106.5 753.3 L2108.9 755.6 L2111.3 761.7 L2113.7 765.9 L2116.1 772.8 L2118.5 766.9 L2120.9 769.3 L2123.3 766.9 L2125.7 771.6 L2128.1 769.1 L2130.5 773.0 L2133.0 784.9 L2135.4 806.1 L2137.8 853.5 L2140.2 895.7 L2142.6 925.3 L2145.0 935.2 L2147.4 925.9 L2149.8 927.7 L2152.2 932.5 L2154.6 942.7 L2157.0 962.6 L2159.4 986.1 L2161.8 1007.2 L2164.2 1022.5 L2166.6 1023.2 L2169.0 1033.8 L2171.4 1042.5 L2173.8 1044.8 L2176.2 1049.8 L2178.7 1044.6 L2181.1 1039.0 L2183.5 1037.6 L2185.9 1036.5 L2188.3 1029.8 L2190.7 1011.4 L2193.1 1001.6 L2195.5 987.4 L2197.9 987.5 L2200.3 985.0 L2202.7 982.2 L2205.1 973.7 L2207.5 979.3 L2209.9 1000.6 L2212.3 1015.6 L2214.7 1027.4 L2217.1 1030.8 L2219.5 1034.4 L2221.9 1035.8 L2224.4 1033.5 L2226.8 1022.7 L2229.2 1013.3 L2231.6 1004.0 L2234.0 997.0 L2236.4 990.7 L2238.8 975.6 L2241.2 969.5 L2243.6 957.2 L2246.0 946.3 L2248.4 943.6 L2250.8 944.6 L2253.2 944.3 L2255.6 941.9 L2258.0 942.2 L2260.4 933.8 L2262.8 930.9 L2265.2 925.6 L2267.6 922.3 L2270.1 925.8 L2272.5 922.2 L2274.9 927.2 L2277.3 930.7 L2279.7 923.2 L2282.1 919.2 L2284.5 907.3 L2286.9 912.9 L2289.3 901.8 L2291.7 899.5 L2294.1 887.0 L2296.5 861.5 L2298.9 842.8 L2301.3 830.5 L2303.7 833.8 L2306.1 833.5 L2308.5 833.8 L2310.9 830.0 L2313.4 820.6 L2315.8 814.3 L2318.2 817.4 L2320.6 819.3 L2323.0 826.4 L2325.4 825.0 L2327.8 827.7 L2330.2 833.9 L2332.6 842.4 L2335.0 853.5 L2337.4 866.1 L2339.8 877.1 L2342.2 887.1 L2344.6 893.2 L2347.0 899.2 L2349.4 893.8 L2351.8 877.5 L2354.2 872.3 L2356.6 877.5 L2359.1 877.5 L2361.5 873.6 L2363.9 874.1 L2366.3 890.6 L2368.7 912.7 L2371.1 910.8 L2373.5 902.8 L2375.9 893.6 L2378.3 895.5 L2380.7 898.8" stroke="#00ff00" stroke-width="5" stroke-dasharray="17 15" stroke-dashoffset="0"/>
<path d="M218.3 127.7 L220.7 126.8 L223.1 131.4 L225.5 141.8 L227.9 171.3 L230.3 187.3 L232.7 189.4 L235.1 189.8 L237.5 189.7 L239.9 201.7 L242.4 224.1 L244.8 236.1 L247.2 243.4 L249.6 251.2 L252.0 265.9 L254.4 279.4 L256.8 291.0 L259.2 295.1 L261.6 298.0 L264.0 296.3 L266.4 301.4 L268.8 302.2 L271.2 308.5 L273.6 314.5 L276.0 320.4 L278.4 326.0 L280.8 326.4 L283.2 316.9 L285.6 310.4 L288.1 306.1 L290.5 320.2 L292.9 342.7 L295.3 368.8 L297.7 381.5 L300.1 382.1 L302.5 364.9 L304.9 341.0 L307.3 333.2 L309.7 323.6 L312.1 320.0 L314.5 310.5 L316.9 306.9 L319.3 295.0 L321.7 296.6 L324.1 287.3 L326.5 275.8 L328.9 256.8 L331.4 255.1 L333.8 249.1 L336.2 255.6 L338.6 261.9 L341.0 262.0 L343.4 269.0 L345.8 277.2 L348.2 291.9 L350.6 318.3 L353.0 339.5 L355.4 351.9 L357.8 361.3 L360.2 371.8 L362.6 377.1 L365.0 371.8 L367.4 370.5 L369.8 366.7 L372.2 366.3 L374.6 361.9 L377.1 356.9 L379.5 360.2 L381.9 372.4 L384.3 377.9 L386.7 391.6 L389.1 395.9 L391.5 399.4 L393.9 405.3 L396.3 399.5 L398.7 375.6 L401.1 356.5 L403.5 354.3 L405.9 346.5 L408.3 348.6 L410.7 356.1 L413.1 363.4 L415.5 364.3 L417.9 350.4 L420.3 344.1 L422.8 344.2 L425.2 353.2 L427.6 366.6 L430.0 379.7 L432.4 404.1 L434.8 431.6 L437.2 433.9 L439.6 433.6 L442.0 435.1 L444.4 444.2 L446.8 466.2 L449.2 503.5 L451.6 542.9 L454.0 578.6 L456.4 609.0 L458.8 610.4 L461.2 591.5 L463.6 557.0 L466.0 531.8 L468.5 526.4 L470.9 545.4 L473.3 559.7 L475.7 567.3 L478.1 567.7 L480.5 542.7 L482.9 518.1 L485.3 474.9 L487.7 451.6 L490.1 428.9 L492.5 424.5 L494.9 418.1 L497.3 424.0 L499.7 441.3 L502.1 448.0 L504.5 434.5 L506.9 405.9 L509.3 402.6 L511.8 412.3 L514.2 426.6 L516.6 437.5 L519.0 447.0 L521.4 452.2 L523.8 442.5 L526.2 426.1 L528.6 411.0 L531.0 403.6 L533.4 408.1 L535.8 402.6 L538.2 375.8 L540.6 360.0 L543.0 351.8 L545.4 359.8 L547.8 352.0 L550.2 358.7 L552.6 354.0 L555.0 356.0 L557.5 366.2 L559.9 366.0 L562.3 370.9 L564.7 368.8 L567.1 374.6 L569.5 365.7 L571.9 357.0 L574.3 333.4 L576.7 324.1 L579.1 318.5 L581.5 321.3 L583.9 318.2 L586.3 319.3 L588.7 317.7 L591.1 328.4 L593.5 341.6 L595.9 350.2 L598.3 368.6 L600.7 374.3 L603.2 386.0 L605.6 394.4 L608.0 403.0 L610.4 393.4 L612.8 393.3 L615.2 385.3 L617.6 375.7 L620.0 369.7 L622.4 370.1 L624.8 375.6 L627.2 384.0 L629.6 398.7 L632.0 407.5 L634.4 407.5 L636.8 410.5 L639.2 408.1 L641.6 407.3 L644.0 416.0 L646.5 408.4 L648.9 407.4 L651.3 397.5 L653.7 390.0 L656.1 391.7 L658.5 385.3 L660.9 370.1 L663.3 363.7 L665.7 357.0 L668.1 351.8 L670.5 352.7 L672.9 346.6 L675.3 348.8 L677.7 354.3 L680.1 358.3 L682.5 372.7 L684.9 388.6 L687.3 401.9 L689.7 408.6 L692.2 412.9 L694.6 420.9 L697.0 418.0 L699.4 431.0 L701.8 434.8 L704.2 448.9 L706.6 459.5 L709.0 475.0 L711.4 485.6 L713.8 493.0 L716.2 490.6 L718.6 488.1 L721.0 487.4 L723.4 485.5 L725.8 491.2 L728.2 489.6 L730.6 475.6 L733.0 460.8 L735.4 449.8 L737.9 447.5 L740.3 453.7 L742.7 455.0 L745.1 448.4 L747.5 456.2 L749.9 466.7 L752.3 487.2 L754.7 485.0 L757.1 486.5 L759.5 474.3 L761.9 462.9 L764.3 455.2 L766.7 468.8 L769.1 485.9 L771.5 495.3 L773.9 505.5 L776.3 511.1 L778.7 515.7 L781.1 520.3 L783.6 531.4 L786.0 535.6 L788.4 548.1 L790.8 551.0 L793.2 558.2 L795.6 561.2 L798.0 561.1 L800.4 559.6 L802.8 556.4 L805.2 558.0 L807.6 561.3 L810.0 570.3 L812.4 575.1 L814.8 572.8 L817.2 563.4 L819.6 560.5 L822.0 563.2 L824.4 562.0 L826.9 573.8 L829.3 583.5 L831.7 600.4 L834.1 620.0 L836.5 636.4 L838.9 640.1 L841.3 627.7 L843.7 613.0 L846.1 599.2 L848.5 581.0 L850.9 550.4 L853.3 522.7 L855.7 498.9 L858.1 484.9 L860.5 478.1 L862.9 478.9 L865.3 480.1 L867.7 477.8 L870.1 485.0 L872.6 481.3 L875.0 482.6 L877.4 477.3 L879.8 477.3 L882.2 486.1 L884.6 486.0 L887.0 494.2 L889.4 482.0 L891.8 467.8 L894.2 467.9 L896.6 474.5 L899.0 474.4 L901.4 487.3 L903.8 489.7 L906.2 486.6 L908.6 481.9 L911.0 473.0 L913.4 465.7 L915.8 455.6 L918.3 452.7 L920.7 436.7 L923.1 440.1 L925.5 443.6 L927.9 454.4 L930.3 461.9 L932.7 467.1 L935.1 470.3 L937.5 478.2 L939.9 490.6 L942.3 515.3 L944.7 531.8 L947.1 548.8 L949.5 552.4 L951.9 548.8 L954.3 545.9 L956.7 556.7 L959.1 571.3 L961.5 595.2 L964.0 613.9 L966.4 624.9 L968.8 624.2 L971.2 624.2 L973.6 623.3 L976.0 636.5 L978.4 654.8 L980.8 684.7 L983.2 696.3 L985.6 679.9 L988.0 647.5 L990.4 651.4 L992.8 648.3 L995.2 633.6 L997.6 613.7 L1000.0 600.1 L1002.4 595.9 L1004.8 584.6 L1007.3 577.2 L1009.7 572.6 L1012.1 578.6 L1014.5 594.2 L1016.9 619.4 L1019.3 629.7 L1021.7 625.7 L1024.1 614.9 L1026.5 601.8 L1028.9 594.5 L1031.3 590.5 L1033.7 590.6 L1036.1 598.4 L1038.5 604.5 L1040.9 605.3 L1043.3 601.9 L1045.7 613.7 L1048.1 617.2 L1050.5 617.5 L1053.0 623.3 L1055.4 638.9 L1057.8 648.0 L1060.2 655.7 L1062.6 661.1 L1065.0 657.4 L1067.4 638.6 L1069.8 629.7 L1072.2 616.3 L1074.6 607.3 L1077.0 604.1 L1079.4 598.9 L1081.8 575.8 L1084.2 555.5 L1086.6 540.9 L1089.0 534.5 L1091.4 540.4 L1093.8 558.6 L1096.2 566.6 L1098.7 555.3 L1101.1 544.1 L1103.5 528.8 L1105.9 521.5 L1108.3 526.8 L1110.7 522.6 L1113.1 517.8 L1115.5 507.8 L1117.9 504.3 L1120.3 493.5 L1122.7 489.8 L1125.1 480.6 L1127.5 472.5 L1129.9 463.3 L1132.3 455.8 L1134.7 455.1 L1137.1 461.8 L1139.5 464.1 L1142.0 466.2 L1144.4 470.0 L1146.8 476.6 L1149.2 475.0 L1151.6 472.8 L1154.0 454.7 L1156.4 435.8 L1158.8 414.6 L1161.2 413.2 L1163.6 415.6 L1166.0 411.8 L1168.4 414.7 L1170.8 421.0 L1173.2 428.9 L1175.6 433.3 L1178.0 431.1 L1180.4 428.9 L1182.8 437.0 L1185.2 439.3 L1187.7 443.2 L1190.1 448.2 L1192.5 446.2 L1194.9 439.7 L1197.3 431.7 L1199.7 435.2 L1202.1 429.1 L1204.5 418.2 L1206.9 418.6 L1209.3 417.3 L1211.7 418.1 L1214.1 432.7 L1216.5 433.2 L1218.9 426.7 L1221.3 413.0 L1223.7 401.5 L1226.1 375.5 L1228.5 370.7 L1230.9 375.2 L1233.4 374.0 L1235.8 371.2 L1238.2 357.9 L1240.6 347.4 L1243.0 343.1 L1245.4 334.0 L1247.8 326.9 L1250.2 330.9 L1252.6 320.2 L1255.0 313.9 L1257.4 306.3 L1259.8 302.6 L1262.2 317.0 L1264.6 315.2 L1267.0 309.0 L1269.4 305.5 L1271.8 300.6 L1274.2 310.4 L1276.6 313.7 L1279.1 323.9 L1281.5 321.6 L1283.9 324.1 L1286.3 323.9 L1288.7 329.9 L1291.1 332.1 L1293.5 343.9 L1295.9 351.9 L1298.3 360.9 L1300.7 370.0 L1303.1 379.3 L1305.5 370.6 L1307.9 367.6 L1310.3 353.7 L1312.7 332.8 L1315.1 320.0 L1317.5 309.5 L1319.9 308.3 L1322.4 309.3 L1324.8 307.6 L1327.2 306.1 L1329.6 308.9 L1332.0 314.8 L1334.4 322.5 L1336.8 325.5 L1339.2 329.4 L1341.6 329.5 L1344.0 328.4 L1346.4 342.7 L1348.8 378.0 L1351.2 409.2 L1353.6 440.1 L1356.0 450.0 L1358.4 454.3 L1360.8 448.1 L1363.2 440.3 L1365.6 439.2 L1368.1 431.2 L1370.5 439.2 L1372.9 441.4 L1375.3 439.0 L1377.7 435.8 L1380.1 433.1 L1382.5 443.8 L1384.9 448.9 L1387.3 452.4 L1389.7 449.8 L1392.1 449.0 L1394.5 454.0 L1396.9 480.2 L1399.3 509.0 L1401.7 543.9 L1404.1 572.5 L1406.5 584.7 L1408.9 582.8 L1411.3 583.0 L1413.8 580.2 L1416.2 573.7 L1418.6 568.7 L1421.0 575.1 L1423.4 585.2 L1425.8 590.8 L1428.2 602.4 L1430.6 616.3 L1433.0 622.7 L1435.4 622.8 L1437.8 612.8 L1440.2 596.9 L1442.6 591.7 L1445.0 584.6 L1447.4 578.5 L1449.8 577.3 L1452.2 587.3 L1454.6 597.8 L1457.0 606.0 L1459.5 616.9 L1461.9 622.3 L1464.3 624.2 L1466.7 630.3 L1469.1 633.2 L1471.5 636.1 L1473.9 644.8 L1476.3 645.2 L1478.7 646.4 L1481.1 648.5 L1483.5 645.7 L1485.9 641.6 L1488.3 633.6 L1490.7 620.0 L1493.1 612.2 L1495.5 604.4 L1497.9 606.4 L1500.3 610.4 L1502.8 604.7 L1505.2 595.6 L1507.6 589.2 L1510.0 575.6 L1512.4 575.1 L1514.8 574.6 L1517.2 577.0 L1519.6 571.0 L1522.0 562.2 L1524.4 551.5 L1526.8 550.2 L1529.2 564.1 L1531.6 573.5 L1534.0 594.1 L1536.4 608.7 L1538.8 627.5 L1541.2 638.2 L1543.6 650.3 L1546.0 662.3 L1548.5 667.6 L1550.9 674.6 L1553.3 685.7 L1555.7 688.5 L1558.1 697.0 L1560.5 692.0 L1562.9 692.1 L1565.3 691.2 L1567.7 682.6 L1570.1 674.1 L1572.5 669.1 L1574.9 670.0 L1577.3 685.5 L1579.7 700.9 L1582.1 709.0 L1584.5 711.6 L1586.9 714.4 L1589.3 717.8 L1591.7 696.7 L1594.2 659.4 L1596.6 625.2 L1599.0 596.7 L1601.4 564.4 L1603.8 565.9 L1606.2 574.0 L1608.6 592.2 L1611.0 600.4 L1613.4 609.8 L1615.8 608.0 L1618.2 598.4 L1620.6 578.3 L1623.0 562.0 L1625.4 550.3 L1627.8 554.9 L1630.2 567.5 L1632.6 589.0 L1635.0 602.8 L1637.5 612.8 L1639.9 622.0 L1642.3 626.1 L1644.7 640.5 L1647.1 651.2 L1649.5 650.6 L1651.9 641.6 L1654.3 639.9 L1656.7 647.4 L1659.1 641.6 L1661.5 633.0 L1663.9 623.3 L1666.3 623.4 L1668.7 622.2 L1671.1 624.7 L1673.5 619.3 L1675.9 623.7 L1678.3 624.1 L1680.7 627.6 L1683.2 638.4 L1685.6 654.9 L1688.0 650.9 L1690.4 635.1 L1692.8 624.2 L1695.2 605.4 L1697.6 596.3 L1700.0 604.7 L1702.4 645.3 L1704.8 671.1 L1707.2 682.3 L1709.6 684.4 L1712.0 684.1 L1714.4 692.1 L1716.8 696.1 L1719.2 697.1 L1721.6 692.1 L1724.0 678.1 L1726.4 678.4 L1728.9 693.1 L1731.3 711.7 L1733.7 728.4 L1736.1 749.4 L1738.5 775.5 L1740.9 780.1 L1743.3 775.7 L1745.7 779.3 L1748.1 774.5 L1750.5 768.5 L1752.9 754.1 L1755.3 749.6 L1757.7 762.2 L1760.1 753.9 L1762.5 745.9 L1764.9 736.3 L1767.3 735.0 L1769.7 750.7 L1772.1 767.7 L1774.6 786.0 L1777.0 798.7 L1779.4 811.0 L1781.8 824.2 L1784.2 838.3 L1786.6 852.9 L1789.0 865.1 L1791.4 871.9 L1793.8 880.8 L1796.2 895.5 L1798.6 913.6 L1801.0 923.1 L1803.4 893.3 L1805.8 852.0 L1808.2 831.3 L1810.6 825.5 L1813.0 821.8 L1815.4 827.2 L1817.9 836.7 L1820.3 848.5 L1822.7 852.6 L1825.1 853.1 L1827.5 855.0 L1829.9 839.9 L1832.3 830.9 L1834.7 816.2 L1837.1 801.0 L1839.5 796.5 L1841.9 795.5 L1844.3 797.9 L1846.7 794.2 L1849.1 793.8 L1851.5 794.9 L1853.9 787.1 L1856.3 792.0 L1858.7 810.3 L1861.1 832.7 L1863.6 850.8 L1866.0 862.8 L1868.4 876.8 L1870.8 889.9 L1873.2 890.0 L1875.6 892.1 L1878.0 890.7 L1880.4 885.4 L1882.8 886.8 L1885.2 896.8 L1887.6 900.5 L1890.0 892.3 L1892.4 889.4 L1894.8 885.4 L1897.2 900.6 L1899.6 920.9 L1902.0 934.1 L1904.4 952.2 L1906.8 945.7 L1909.3 919.7 L1911.7 890.7 L1914.1 853.9 L1916.5 835.3 L1918.9 840.0 L1921.3 836.3 L1923.7 840.8 L1926.1 851.3 L1928.5 872.2 L1930.9 882.0 L1933.3 881.0 L1935.7 875.4 L1938.1 864.1 L1940.5 857.8 L1942.9 850.0 L1945.3 850.3 L1947.7 844.9 L1950.1 847.2 L1952.5 848.1 L1955.0 840.9 L1957.4 833.6 L1959.8 825.1 L1962.2 808.6 L1964.6 803.7 L1967.0 792.9 L1969.4 787.5 L1971.8 780.8 L1974.2 780.4 L1976.6 776.7 L1979.0 772.9 L1981.4 760.0 L1983.8 731.4 L1986.2 720.1 L1988.6 725.6 L1991.0 726.6 L1993.4 724.9 L1995.8 729.7 L1998.3 728.6 L2000.7 729.7 L2003.1 733.3 L2005.5 718.8 L2007.9 720.7 L2010.3 717.5 L2012.7 715.2 L2015.1 710.7 L2017.5 706.5 L2019.9 713.0 L2022.3 724.8 L2024.7 730.4 L2027.1 728.9 L2029.5 721.5 L2031.9 727.6 L2034.3 753.4 L2036.7 765.1 L2039.1 765.1 L2041.5 752.7 L2044.0 738.6 L2046.4 724.3 L2048.8 720.1 L2051.2 726.9 L2053.6 731.8 L2056.0 740.5 L2058.4 744.3 L2060.8 748.3 L2063.2 748.8 L2065.6 746.6 L2068.0 736.8 L2070.4 724.7 L2072.8 729.4 L2075.2 738.2 L2077.6 748.1 L2080.0 757.7 L2082.4 756.8 L2084.8 755.8 L2087.2 755.1 L2089.7 744.1 L2092.1 744.1 L2094.5 740.5 L2096.9 735.6 L2099.3 734.4 L2101.7 726.7 L2104.1 722.0 L2106.5 724.4 L2108.9 727.6 L2111.3 732.1 L2113.7 734.5 L2116.1 739.9 L2118.5 739.5 L2120.9 744.2 L2123.3 735.6 L2125.7 737.7 L2128.1 737.3 L2130.5 738.4 L2133.0 753.3 L2135.4 770.6 L2137.8 806.5 L2140.2 856.2 L2142.6 891.9 L2145.0 906.0 L2147.4 903.5 L2149.8 905.6 L2152.2 901.0 L2154.6 909.0 L2157.0 926.5 L2159.4 952.8 L2161.8 976.1 L2164.2 986.6 L2166.6 996.8 L2169.0 1003.2 L2171.4 1013.7 L2173.8 1016.0 L2176.2 1023.6 L2178.7 1018.3 L2181.1 1013.2 L2183.5 1010.9 L2185.9 1009.5 L2188.3 1003.9 L2190.7 987.7 L2193.1 976.7 L2195.5 961.1 L2197.9 959.4 L2200.3 951.7 L2202.7 954.1 L2205.1 942.2 L2207.5 947.2 L2209.9 963.8 L2212.3 984.6 L2214.7 1001.8 L2217.1 1002.5 L2219.5 1008.0 L2221.9 1006.5 L2224.4 1005.2 L2226.8 998.5 L2229.2 988.5 L2231.6 982.2 L2234.0 972.1 L2236.4 961.7 L2238.8 949.8 L2241.2 941.8 L2243.6 933.8 L2246.0 918.8 L2248.4 915.1 L2250.8 915.7 L2253.2 912.9 L2255.6 914.6 L2258.0 913.4 L2260.4 906.5 L2262.8 905.8 L2265.2 897.6 L2267.6 893.5 L2270.1 892.9 L2272.5 892.8 L2274.9 899.5 L2277.3 903.1 L2279.7 897.6 L2282.1 888.9 L2284.5 881.0 L2286.9 878.2 L2289.3 875.3 L2291.7 873.4 L2294.1 863.5 L2296.5 840.5 L2298.9 818.2 L2301.3 800.0 L2303.7 803.9 L2306.1 804.6 L2308.5 801.2 L2310.9 798.8 L2313.4 794.6 L2315.8 788.1 L2318.2 788.6 L2320.6 785.8 L2323.0 797.0 L2325.4 795.2 L2327.8 803.6 L2330.2 801.1 L2332.6 813.6 L2335.0 826.3 L2337.4 835.2 L2339.8 848.5 L2342.2 857.4 L2344.6 865.9 L2347.0 868.6 L2349.4 868.0 L2351.8 849.6 L2354.2 843.2 L2356.6 844.7 L2359.1 847.5 L2361.5 846.9 L2363.9 847.3 L2366.3 858.0 L2368.7 878.7 L2371.1 884.9 L2373.5 873.6 L2375.9 871.0 L2378.3 866.3 L2380.7 871.3" stroke="#ff00ff" stroke-width="5" stroke-dasharray="17 15" stroke-dashoffset="8"/>
<path d="M218.3 129.9 L220.7 126.0 L223.1 135.3 L225.5 150.2 L227.9 174.1 L230.3 190.6 L232.7 191.5 L235.1 192.0 L237.5 194.2 L239.9 215.5 L242.4 231.2 L244.8 243.9 L247.2 251.7 L249.6 260.7 L252.0 273.5 L254.4 289.1 L256.8 299.8 L259.2 304.5 L261.6 308.0 L264.0 307.1 L266.4 310.1 L268.8 314.8 L271.2 320.0 L273.6 325.3 L276.0 334.8 L278.4 337.3 L280.8 336.5 L283.2 331.7 L285.6 326.2 L288.1 323.6 L290.5 334.0 L292.9 360.7 L295.3 384.2 L297.7 395.2 L300.1 395.1 L302.5 376.5 L304.9 349.9 L307.3 347.3 L309.7 339.6 L312.1 333.3 L314.5 324.5 L316.9 319.7 L319.3 312.0 L321.7 312.9 L324.1 302.8 L326.5 288.4 L328.9 275.3 L331.4 271.2 L333.8 270.9 L336.2 273.6 L338.6 278.2 L341.0 281.3 L343.4 287.0 L345.8 295.5 L348.2 312.4 L350.6 335.2 L353.0 353.9 L355.4 365.8 L357.8 379.5 L360.2 389.0 L362.6 387.9 L365.0 386.7 L367.4 384.6 L369.8 383.3 L372.2 378.3 L374.6 378.5 L377.1 377.1 L379.5 383.2 L381.9 384.8 L384.3 394.1 L386.7 406.0 L389.1 411.6 L391.5 418.5 L393.9 418.5 L396.3 413.2 L398.7 389.1 L401.1 374.1 L403.5 366.7 L405.9 362.6 L408.3 363.8 L410.7 376.7 L413.1 381.8 L415.5 378.4 L417.9 367.9 L420.3 363.0 L422.8 361.9 L425.2 373.0 L427.6 385.1 L430.0 400.8 L432.4 426.2 L434.8 447.2 L437.2 450.6 L439.6 450.4 L442.0 454.8 L444.4 463.0 L446.8 486.2 L449.2 526.0 L451.6 566.0 L454.0 599.6 L456.4 627.2 L458.8 624.4 L461.2 600.3 L463.6 566.0 L466.0 546.4 L468.5 542.2 L470.9 558.6 L473.3 575.5 L475.7 583.5 L478.1 577.4 L480.5 557.7 L482.9 527.5 L485.3 489.3 L487.7 461.6 L490.1 448.0 L492.5 439.3 L494.9 437.3 L497.3 442.5 L499.7 459.2 L502.1 463.5 L504.5 444.8 L506.9 421.4 L509.3 420.1 L511.8 431.2 L514.2 444.4 L516.6 455.7 L519.0 464.1 L521.4 468.0 L523.8 455.8 L526.2 443.2 L528.6 427.4 L531.0 421.8 L533.4 420.0 L535.8 412.5 L538.2 389.5 L540.6 375.2 L543.0 369.6 L545.4 373.3 L547.8 368.3 L550.2 374.5 L552.6 371.7 L555.0 373.7 L557.5 382.9 L559.9 385.5 L562.3 385.7 L564.7 386.8 L567.1 386.5 L569.5 379.2 L571.9 367.3 L574.3 348.2 L576.7 338.0 L579.1 338.4 L581.5 337.8 L583.9 336.7 L586.3 334.6 L588.7 335.0 L591.1 348.0 L593.5 358.5 L595.9 366.3 L598.3 384.2 L600.7 391.6 L603.2 406.6 L605.6 412.1 L608.0 418.6 L610.4 412.4 L612.8 407.0 L615.2 402.1 L617.6 388.6 L620.0 385.8 L622.4 386.5 L624.8 393.3 L627.2 404.6 L629.6 416.8 L632.0 424.9 L634.4 424.9 L636.8 425.5 L639.2 422.6 L641.6 427.1 L644.0 431.6 L646.5 423.7 L648.9 422.2 L651.3 412.1 L653.7 409.8 L656.1 408.8 L658.5 399.0 L660.9 385.1 L663.3 377.8 L665.7 371.4 L668.1 369.4 L670.5 368.5 L672.9 369.2 L675.3 365.4 L677.7 372.9 L680.1 376.9 L682.5 392.0 L684.9 405.2 L687.3 414.8 L689.7 425.8 L692.2 433.1 L694.6 435.1 L697.0 438.9 L699.4 449.1 L701.8 453.4 L704.2 465.2 L706.6 478.4 L709.0 487.9 L711.4 502.7 L713.8 509.1 L716.2 508.7 L718.6 502.9 L721.0 501.3 L723.4 501.0 L725.8 505.2 L728.2 503.8 L730.6 486.9 L733.0 474.3 L735.4 465.0 L737.9 465.9 L740.3 468.3 L742.7 467.9 L745.1 467.2 L747.5 468.1 L749.9 485.2 L752.3 504.1 L754.7 505.2 L757.1 501.6 L759.5 485.3 L761.9 479.2 L764.3 476.2 L766.7 485.5 L769.1 506.3 L771.5 513.1 L773.9 515.3 L776.3 524.2 L778.7 531.2 L781.1 538.7 L783.6 546.2 L786.0 557.5 L788.4 565.4 L790.8 567.4 L793.2 575.9 L795.6 579.4 L798.0 574.5 L800.4 577.0 L802.8 572.1 L805.2 571.9 L807.6 579.3 L810.0 589.9 L812.4 597.0 L814.8 587.9 L817.2 577.5 L819.6 577.3 L822.0 578.8 L824.4 584.3 L826.9 591.7 L829.3 603.4 L831.7 620.3 L834.1 634.5 L836.5 649.8 L838.9 657.1 L841.3 640.3 L843.7 625.0 L846.1 611.8 L848.5 589.9 L850.9 564.5 L853.3 536.9 L855.7 516.1 L858.1 503.5 L860.5 498.5 L862.9 499.1 L865.3 500.3 L867.7 496.8 L870.1 502.0 L872.6 498.3 L875.0 497.3 L877.4 492.8 L879.8 494.6 L882.2 502.7 L884.6 506.3 L887.0 506.2 L889.4 494.3 L891.8 484.4 L894.2 484.4 L896.6 488.5 L899.0 496.6 L901.4 506.4 L903.8 504.9 L906.2 506.4 L908.6 498.9 L911.0 488.4 L913.4 479.8 L915.8 468.4 L918.3 463.1 L920.7 456.1 L923.1 453.9 L925.5 464.1 L927.9 472.7 L930.3 483.2 L932.7 488.0 L935.1 486.0 L937.5 494.6 L939.9 507.9 L942.3 532.6 L944.7 547.9 L947.1 567.1 L949.5 563.9 L951.9 560.7 L954.3 563.7 L956.7 576.0 L959.1 591.7 L961.5 612.7 L964.0 633.3 L966.4 641.5 L968.8 636.8 L971.2 636.6 L973.6 640.5 L976.0 658.3 L978.4 675.9 L980.8 707.5 L983.2 708.9 L985.6 684.7 L988.0 662.1 L990.4 666.7 L992.8 659.7 L995.2 644.9 L997.6 626.1 L1000.0 615.7 L1002.4 608.2 L1004.8 602.6 L1007.3 593.4 L1009.7 591.9 L1012.1 599.3 L1014.5 616.3 L1016.9 638.8 L1019.3 644.3 L1021.7 639.3 L1024.1 629.6 L1026.5 617.3 L1028.9 605.7 L1031.3 606.8 L1033.7 607.8 L1036.1 614.0 L1038.5 620.7 L1040.9 622.6 L1043.3 623.9 L1045.7 627.3 L1048.1 633.9 L1050.5 633.5 L1053.0 639.5 L1055.4 653.5 L1057.8 662.4 L1060.2 673.1 L1062.6 673.2 L1065.0 668.0 L1067.4 654.0 L1069.8 643.0 L1072.2 627.9 L1074.6 619.7 L1077.0 619.5 L1079.4 611.2 L1081.8 591.4 L1084.2 568.9 L1086.6 558.1 L1089.0 551.5 L1091.4 560.7 L1093.8 573.2 L1096.2 578.3 L1098.7 572.3 L1101.1 555.2 L1103.5 546.8 L1105.9 540.3 L1108.3 543.6 L1110.7 537.8 L1113.1 530.2 L1115.5 526.2 L1117.9 519.4 L1120.3 508.8 L1122.7 501.6 L1125.1 497.9 L1127.5 487.3 L1129.9 480.4 L1132.3 471.4 L1134.7 472.5 L1137.1 478.6 L1139.5 481.5 L1142.0 485.3 L1144.4 486.1 L1146.8 490.5 L1149.2 490.0 L1151.6 485.2 L1154.0 464.8 L1156.4 447.2 L1158.8 430.5 L1161.2 428.0 L1163.6 432.9 L1166.0 429.7 L1168.4 432.8 L1170.8 439.9 L1173.2 449.7 L1175.6 446.9 L1178.0 444.8 L1180.4 445.7 L1182.8 450.1 L1185.2 457.2 L1187.7 462.1 L1190.1 462.2 L1192.5 462.7 L1194.9 457.7 L1197.3 451.4 L1199.7 451.2 L1202.1 444.8 L1204.5 438.1 L1206.9 433.8 L1209.3 431.0 L1211.7 437.5 L1214.1 449.0 L1216.5 450.6 L1218.9 439.1 L1221.3 427.0 L1223.7 412.8 L1226.1 392.5 L1228.5 388.0 L1230.9 392.0 L1233.4 391.3 L1235.8 385.8 L1238.2 374.2 L1240.6 364.6 L1243.0 359.4 L1245.4 348.8 L1247.8 344.3 L1250.2 341.1 L1252.6 337.8 L1255.0 328.3 L1257.4 321.4 L1259.8 320.8 L1262.2 330.1 L1264.6 330.7 L1267.0 322.7 L1269.4 320.7 L1271.8 318.4 L1274.2 327.1 L1276.6 330.0 L1279.1 336.5 L1281.5 337.2 L1283.9 340.9 L1286.3 344.7 L1288.7 348.7 L1291.1 349.4 L1293.5 362.2 L1295.9 371.6 L1298.3 378.5 L1300.7 386.4 L1303.1 392.8 L1305.5 386.8 L1307.9 381.2 L1310.3 367.4 L1312.7 349.8 L1315.1 337.5 L1317.5 328.9 L1319.9 324.2 L1322.4 326.5 L1324.8 326.6 L1327.2 322.3 L1329.6 327.9 L1332.0 334.3 L1334.4 339.1 L1336.8 344.5 L1339.2 345.4 L1341.6 348.4 L1344.0 350.3 L1346.4 365.2 L1348.8 397.4 L1351.2 426.3 L1353.6 452.0 L1356.0 466.8 L1358.4 465.9 L1360.8 463.3 L1363.2 451.9 L1365.6 452.2 L1368.1 449.0 L1370.5 454.8 L1372.9 458.2 L1375.3 455.3 L1377.7 449.0 L1380.1 447.4 L1382.5 462.1 L1384.9 466.2 L1387.3 468.4 L1389.7 468.7 L1392.1 467.8 L1394.5 474.5 L1396.9 502.2 L1399.3 531.9 L1401.7 569.2 L1404.1 591.4 L1406.5 601.7 L1408.9 599.2 L1411.3 599.3 L1413.8 595.2 L1416.2 591.4 L1418.6 588.0 L1421.0 592.5 L1423.4 605.3 L1425.8 609.7 L1428.2 621.1 L1430.6 631.2 L1433.0 640.8 L1435.4 635.7 L1437.8 625.1 L1440.2 612.8 L1442.6 606.0 L1445.0 601.6 L1447.4 595.9 L1449.8 597.0 L1452.2 606.8 L1454.6 616.7 L1457.0 625.1 L1459.5 635.7 L1461.9 636.1 L1464.3 637.9 L1466.7 646.4 L1469.1 650.5 L1471.5 655.2 L1473.9 659.9 L1476.3 659.9 L1478.7 662.9 L1481.1 661.3 L1483.5 660.8 L1485.9 657.9 L1488.3 648.2 L1490.7 635.1 L1493.1 625.3 L1495.5 619.8 L1497.9 625.3 L1500.3 623.7 L1502.8 619.3 L1505.2 606.6 L1507.6 602.8 L1510.0 593.8 L1512.4 591.1 L1514.8 590.5 L1517.2 592.7 L1519.6 588.0 L1522.0 577.3 L1524.4 570.4 L1526.8 569.8 L1529.2 586.7 L1531.6 597.1 L1534.0 612.8 L1536.4 629.3 L1538.8 647.6 L1541.2 654.6 L1543.6 666.4 L1546.0 675.1 L1548.5 681.7 L1550.9 695.0 L1553.3 702.3 L1555.7 705.6 L1558.1 713.0 L1560.5 706.9 L1562.9 708.2 L1565.3 708.9 L1567.7 699.4 L1570.1 689.4 L1572.5 681.3 L1574.9 685.8 L1577.3 703.0 L1579.7 717.9 L1582.1 724.8 L1584.5 725.6 L1586.9 726.6 L1589.3 729.4 L1591.7 707.3 L1594.2 668.9 L1596.6 634.5 L1599.0 605.8 L1601.4 581.0 L1603.8 583.9 L1606.2 598.4 L1608.6 614.9 L1611.0 618.8 L1613.4 623.6 L1615.8 623.7 L1618.2 613.2 L1620.6 592.9 L1623.0 577.1 L1625.4 567.1 L1627.8 575.2 L1630.2 591.1 L1632.6 604.7 L1635.0 619.7 L1637.5 630.6 L1639.9 639.2 L1642.3 647.0 L1644.7 661.1 L1647.1 668.2 L1649.5 661.3 L1651.9 658.6 L1654.3 656.2 L1656.7 660.5 L1659.1 661.4 L1661.5 645.5 L1663.9 636.7 L1666.3 639.0 L1668.7 637.8 L1671.1 637.5 L1673.5 636.9 L1675.9 642.2 L1678.3 641.5 L1680.7 646.0 L1683.2 657.3 L1685.6 668.2 L1688.0 665.5 L1690.4 650.1 L1692.8 640.7 L1695.2 621.1 L1697.6 615.0 L1700.0 631.0 L1702.4 670.7 L1704.8 691.2 L1707.2 696.7 L1709.6 699.7 L1712.0 703.7 L1714.4 705.6 L1716.8 709.0 L1719.2 709.7 L1721.6 701.5 L1724.0 694.8 L1726.4 698.2 L1728.9 712.4 L1731.3 731.8 L1733.7 747.6 L1736.1 769.9 L1738.5 790.1 L1740.9 795.0 L1743.3 794.8 L1745.7 795.5 L1748.1 790.1 L1750.5 783.7 L1752.9 769.4 L1755.3 770.2 L1757.7 777.9 L1760.1 771.2 L1762.5 758.6 L1764.9 750.0 L1767.3 755.8 L1769.7 772.3 L1772.1 787.1 L1774.6 803.0 L1777.0 817.8 L1779.4 827.4 L1781.8 840.8 L1784.2 855.7 L1786.6 869.0 L1789.0 882.1 L1791.4 888.5 L1793.8 897.0 L1796.2 913.3 L1798.6 930.0 L1801.0 932.6 L1803.4 902.9 L1805.8 864.3 L1808.2 846.3 L1810.6 836.8 L1813.0 836.9 L1815.4 844.5 L1817.9 855.1 L1820.3 862.5 L1822.7 868.2 L1825.1 869.1 L1827.5 865.8 L1829.9 856.7 L1832.3 843.4 L1834.7 829.9 L1837.1 819.5 L1839.5 815.3 L1841.9 813.9 L1844.3 814.0 L1846.7 815.1 L1849.1 810.6 L1851.5 808.9 L1853.9 806.9 L1856.3 815.4 L1858.7 830.3 L1861.1 853.0 L1863.6 864.8 L1866.0 879.9 L1868.4 896.3 L1870.8 901.9 L1873.2 905.7 L1875.6 904.4 L1878.0 904.7 L1880.4 901.1 L1882.8 904.8 L1885.2 913.0 L1887.6 914.6 L1890.0 911.8 L1892.4 904.7 L1894.8 902.7 L1897.2 920.7 L1899.6 936.3 L1902.0 951.8 L1904.4 964.9 L1906.8 956.2 L1909.3 934.6 L1911.7 901.2 L1914.1 866.8 L1916.5 855.8 L1918.9 856.4 L1921.3 855.0 L1923.7 857.7 L1926.1 869.4 L1928.5 889.2 L1930.9 895.7 L1933.3 894.5 L1935.7 886.2 L1938.1 880.9 L1940.5 868.8 L1942.9 865.8 L1945.3 867.8 L1947.7 861.3 L1950.1 862.1 L1952.5 860.5 L1955.0 856.1 L1957.4 843.4 L1959.8 834.8 L1962.2 827.0 L1964.6 817.1 L1967.0 809.7 L1969.4 801.5 L1971.8 797.7 L1974.2 795.8 L1976.6 792.3 L1979.0 788.2 L1981.4 773.8 L1983.8 746.2 L1986.2 739.7 L1988.6 740.3 L1991.0 743.7 L1993.4 744.0 L1995.8 745.3 L1998.3 746.6 L2000.7 749.6 L2003.1 746.1 L2005.5 738.3 L2007.9 736.0 L2010.3 733.5 L2012.7 730.4 L2015.1 722.9 L2017.5 723.2 L2019.9 730.6 L2022.3 742.7 L2024.7 742.9 L2027.1 740.1 L2029.5 736.4 L2031.9 747.4 L2034.3 771.7 L2036.7 781.4 L2039.1 779.9 L2041.5 766.2 L2044.0 750.8 L2046.4 737.4 L2048.8 732.5 L2051.2 742.9 L2053.6 751.3 L2056.0 762.4 L2058.4 762.5 L2060.8 765.6 L2063.2 764.0 L2065.6 756.9 L2068.0 749.8 L2070.4 738.8 L2072.8 744.5 L2075.2 756.7 L2077.6 765.2 L2080.0 771.7 L2082.4 774.1 L2084.8 772.2 L2087.2 765.0 L2089.7 761.7 L2092.1 758.7 L2094.5 755.1 L2096.9 750.4 L2099.3 746.8 L2101.7 739.7 L2104.1 743.8 L2106.5 744.0 L2108.9 743.8 L2111.3 748.0 L2113.7 753.8 L2116.1 758.9 L2118.5 757.2 L2120.9 757.7 L2123.3 755.6 L2125.7 758.1 L2128.1 754.1 L2130.5 759.0 L2133.0 769.6 L2135.4 792.7 L2137.8 831.8 L2140.2 879.0 L2142.6 912.2 L2145.0 922.0 L2147.4 917.0 L2149.8 918.2 L2152.2 919.4 L2154.6 926.3 L2157.0 947.7 L2159.4 972.8 L2161.8 992.1 L2164.2 1007.9 L2166.6 1010.4 L2169.0 1021.0 L2171.4 1028.1 L2173.8 1029.8 L2176.2 1035.4 L2178.7 1032.6 L2181.1 1026.8 L2183.5 1025.0 L2185.9 1023.3 L2188.3 1019.6 L2190.7 1002.9 L2193.1 989.5 L2195.5 978.2 L2197.9 976.4 L2200.3 973.5 L2202.7 970.7 L2205.1 959.4 L2207.5 965.4 L2209.9 985.0 L2212.3 999.4 L2214.7 1012.2 L2217.1 1017.0 L2219.5 1020.3 L2221.9 1019.2 L2224.4 1021.8 L2226.8 1013.9 L2229.2 998.9 L2231.6 991.6 L2234.0 984.8 L2236.4 976.4 L2238.8 965.7 L2241.2 956.3 L2243.6 945.1 L2246.0 932.7 L2248.4 931.0 L2250.8 931.8 L2253.2 931.6 L2255.6 931.3 L2258.0 930.7 L2260.4 924.1 L2262.8 920.4 L2265.2 911.3 L2267.6 909.0 L2270.1 909.6 L2272.5 908.9 L2274.9 913.7 L2277.3 918.7 L2279.7 907.8 L2282.1 904.2 L2284.5 895.6 L2286.9 894.8 L2289.3 888.4 L2291.7 888.3 L2294.1 875.1 L2296.5 852.4 L2298.9 832.0 L2301.3 818.0 L2303.7 816.6 L2306.1 821.2 L2308.5 821.2 L2310.9 816.6 L2313.4 811.9 L2315.8 803.3 L2318.2 805.0 L2320.6 807.3 L2323.0 813.9 L2325.4 812.9 L2327.8 814.7 L2330.2 820.8 L2332.6 826.2 L2335.0 842.4 L2337.4 851.7 L2339.8 862.1 L2342.2 873.0 L2344.6 881.6 L2347.0 884.3 L2349.4 880.0 L2351.8 864.0 L2354.2 860.3 L2356.6 863.6 L2359.1 862.8 L2361.5 861.3 L2363.9 862.6 L2366.3 878.3 L2368.7 895.6 L2371.1 899.8 L2373.5 892.1 L2375.9 886.5 L2378.3 882.2 L2380.7 889.7" stroke="#ffff00" stroke-width="5" stroke-dasharray="17 15" stroke-dashoffset="16"/>
<path d="M218.3 126.7 L220.7 129.0 L223.1 137.1 L225.5 152.0 L227.9 173.1 L230.3 191.4 L232.7 193.8 L235.1 193.3 L237.5 194.2 L239.9 212.8 L242.4 232.3 L244.8 247.4 L247.2 253.6 L249.6 263.5 L252.0 274.4 L254.4 293.7 L256.8 298.5 L259.2 307.7 L261.6 308.1 L264.0 308.0 L266.4 311.1 L268.8 314.0 L271.2 321.8 L273.6 327.8 L276.0 339.0 L278.4 336.7 L280.8 336.5 L283.2 333.4 L285.6 329.9 L288.1 322.4 L290.5 337.3 L292.9 364.0 L295.3 384.2 L297.7 398.6 L300.1 398.2 L302.5 379.9 L304.9 357.4 L307.3 347.9 L309.7 342.7 L312.1 338.1 L314.5 328.0 L316.9 322.9 L319.3 314.7 L321.7 316.5 L324.1 304.9 L326.5 290.8 L328.9 276.3 L331.4 273.2 L333.8 276.1 L336.2 274.7 L338.6 281.1 L341.0 286.0 L343.4 288.2 L345.8 297.4 L348.2 315.7 L350.6 340.0 L353.0 355.0 L355.4 373.4 L357.8 381.3 L360.2 391.6 L362.6 393.9 L365.0 390.4 L367.4 390.1 L369.8 385.6 L372.2 383.7 L374.6 383.0 L377.1 378.0 L379.5 386.3 L381.9 389.4 L384.3 396.2 L386.7 411.0 L389.1 415.2 L391.5 418.2 L393.9 425.1 L396.3 415.4 L398.7 394.6 L401.1 374.4 L403.5 369.4 L405.9 364.0 L408.3 366.5 L410.7 376.5 L413.1 383.8 L415.5 381.4 L417.9 372.5 L420.3 364.4 L422.8 366.9 L425.2 376.3 L427.6 388.8 L430.0 400.4 L432.4 429.1 L434.8 450.0 L437.2 452.6 L439.6 453.1 L442.0 456.3 L444.4 469.0 L446.8 491.4 L449.2 529.2 L451.6 568.9 L454.0 602.3 L456.4 629.9 L458.8 627.7 L461.2 602.8 L463.6 570.6 L466.0 549.4 L468.5 546.6 L470.9 562.4 L473.3 577.9 L475.7 586.4 L478.1 578.5 L480.5 559.2 L482.9 528.8 L485.3 490.7 L487.7 467.7 L490.1 451.4 L492.5 442.7 L494.9 441.0 L497.3 448.3 L499.7 459.7 L502.1 465.7 L504.5 447.4 L506.9 427.5 L509.3 423.9 L511.8 434.2 L514.2 449.3 L516.6 458.8 L519.0 467.5 L521.4 470.9 L523.8 459.9 L526.2 446.1 L528.6 429.4 L531.0 423.3 L533.4 425.8 L535.8 416.0 L538.2 394.4 L540.6 377.2 L543.0 370.4 L545.4 375.6 L547.8 368.6 L550.2 376.6 L552.6 377.1 L555.0 376.5 L557.5 386.8 L559.9 386.7 L562.3 389.0 L564.7 390.5 L567.1 391.0 L569.5 382.8 L571.9 369.3 L574.3 350.1 L576.7 341.7 L579.1 341.9 L581.5 339.8 L583.9 340.5 L586.3 338.5 L588.7 338.3 L591.1 351.3 L593.5 362.4 L595.9 369.8 L598.3 388.5 L600.7 394.3 L603.2 407.8 L605.6 415.4 L608.0 422.9 L610.4 414.3 L612.8 411.5 L615.2 403.3 L617.6 390.5 L620.0 387.3 L622.4 392.1 L624.8 396.2 L627.2 406.0 L629.6 417.5 L632.0 428.2 L634.4 428.9 L636.8 427.4 L639.2 426.4 L641.6 432.0 L644.0 434.7 L646.5 425.9 L648.9 423.5 L651.3 414.1 L653.7 410.1 L656.1 412.8 L658.5 402.5 L660.9 384.3 L663.3 381.7 L665.7 376.3 L668.1 371.8 L670.5 371.0 L672.9 370.5 L675.3 367.7 L677.7 375.0 L680.1 380.4 L682.5 395.7 L684.9 407.9 L687.3 418.4 L689.7 429.9 L692.2 436.4 L694.6 438.5 L697.0 441.1 L699.4 449.0 L701.8 456.9 L704.2 469.9 L706.6 479.8 L709.0 494.3 L711.4 502.2 L713.8 513.8 L716.2 511.3 L718.6 504.3 L721.0 501.1 L723.4 504.3 L725.8 510.3 L728.2 505.8 L730.6 492.1 L733.0 476.6 L735.4 470.1 L737.9 469.2 L740.3 471.8 L742.7 472.7 L745.1 470.8 L747.5 475.9 L749.9 491.0 L752.3 509.2 L754.7 506.6 L757.1 501.7 L759.5 489.8 L761.9 482.0 L764.3 479.2 L766.7 489.7 L769.1 508.7 L771.5 517.2 L773.9 518.8 L776.3 526.3 L778.7 535.8 L781.1 542.6 L783.6 550.0 L786.0 561.3 L788.4 566.7 L790.8 571.5 L793.2 577.5 L795.6 583.5 L798.0 578.2 L800.4 579.1 L802.8 575.7 L805.2 576.2 L807.6 583.5 L810.0 594.4 L812.4 597.1 L814.8 591.0 L817.2 580.4 L819.6 580.6 L822.0 583.0 L824.4 586.9 L826.9 595.2 L829.3 607.0 L831.7 622.4 L834.1 637.6 L836.5 654.4 L838.9 660.1 L841.3 644.3 L843.7 627.5 L846.1 616.6 L848.5 594.3 L850.9 566.5 L853.3 538.5 L855.7 517.2 L858.1 508.4 L860.5 500.8 L862.9 503.3 L865.3 501.0 L867.7 497.8 L870.1 505.0 L872.6 500.3 L875.0 499.7 L877.4 494.3 L879.8 498.7 L882.2 506.7 L884.6 506.0 L887.0 510.6 L889.4 496.3 L891.8 488.0 L894.2 486.4 L896.6 495.9 L899.0 498.4 L901.4 508.3 L903.8 510.2 L906.2 506.3 L908.6 501.3 L911.0 491.1 L913.4 481.8 L915.8 474.2 L918.3 467.6 L920.7 460.0 L923.1 459.7 L925.5 466.5 L927.9 475.7 L930.3 484.7 L932.7 491.2 L935.1 489.0 L937.5 500.4 L939.9 509.9 L942.3 535.7 L944.7 552.1 L947.1 570.8 L949.5 569.3 L951.9 565.3 L954.3 568.1 L956.7 577.9 L959.1 594.1 L961.5 614.8 L964.0 634.5 L966.4 642.6 L968.8 642.5 L971.2 639.3 L973.6 643.8 L976.0 659.0 L978.4 677.6 L980.8 709.0 L983.2 713.3 L985.6 685.8 L988.0 665.5 L990.4 671.9 L992.8 663.5 L995.2 649.8 L997.6 630.5 L1000.0 619.3 L1002.4 612.9 L1004.8 604.1 L1007.3 597.4 L1009.7 591.5 L1012.1 600.0 L1014.5 621.8 L1016.9 640.8 L1019.3 646.6 L1021.7 642.1 L1024.1 630.7 L1026.5 621.1 L1028.9 612.6 L1031.3 610.2 L1033.7 610.0 L1036.1 614.8 L1038.5 625.9 L1040.9 627.3 L1043.3 625.5 L1045.7 633.5 L1048.1 637.1 L1050.5 635.3 L1053.0 642.4 L1055.4 658.7 L1057.8 666.6 L1060.2 674.3 L1062.6 677.9 L1065.0 668.9 L1067.4 657.6 L1069.8 644.0 L1072.2 631.2 L1074.6 623.3 L1077.0 619.5 L1079.4 615.6 L1081.8 593.9 L1084.2 571.4 L1086.6 560.5 L1089.0 554.5 L1091.4 563.1 L1093.8 578.5 L1096.2 580.7 L1098.7 576.3 L1101.1 558.7 L1103.5 550.2 L1105.9 545.8 L1108.3 542.1 L1110.7 540.6 L1113.1 534.6 L1115.5 527.3 L1117.9 522.6 L1120.3 508.4 L1122.7 505.4 L1125.1 499.9 L1127.5 487.1 L1129.9 481.8 L1132.3 474.8 L1134.7 475.7 L1137.1 479.7 L1139.5 485.2 L1142.0 487.1 L1144.4 486.7 L1146.8 491.6 L1149.2 490.4 L1151.6 485.6 L1154.0 467.0 L1156.4 450.9 L1158.8 432.2 L1161.2 433.0 L1163.6 433.2 L1166.0 432.6 L1168.4 436.4 L1170.8 443.7 L1173.2 451.5 L1175.6 449.7 L1178.0 447.5 L1180.4 447.3 L1182.8 452.0 L1185.2 460.3 L1187.7 465.2 L1190.1 467.6 L1192.5 463.1 L1194.9 458.6 L1197.3 452.0 L1199.7 453.6 L1202.1 446.3 L1204.5 440.9 L1206.9 437.8 L1209.3 433.8 L1211.7 439.5 L1214.1 449.9 L1216.5 452.4 L1218.9 443.9 L1221.3 428.9 L1223.7 414.6 L1226.1 397.8 L1228.5 390.2 L1230.9 393.3 L1233.4 392.0 L1235.8 389.6 L1238.2 376.2 L1240.6 365.6 L1243.0 360.7 L1245.4 352.3 L1247.8 346.2 L1250.2 344.5 L1252.6 341.5 L1255.0 330.6 L1257.4 327.5 L1259.8 326.1 L1262.2 333.5 L1264.6 335.0 L1267.0 323.8 L1269.4 323.3 L1271.8 322.1 L1274.2 329.4 L1276.6 333.8 L1279.1 337.7 L1281.5 341.4 L1283.9 344.4 L1286.3 346.0 L1288.7 351.7 L1291.1 351.8 L1293.5 365.4 L1295.9 374.4 L1298.3 378.6 L1300.7 389.5 L1303.1 393.5 L1305.5 389.1 L1307.9 383.0 L1310.3 369.8 L1312.7 350.3 L1315.1 339.6 L1317.5 328.6 L1319.9 328.3 L1322.4 328.6 L1324.8 329.2 L1327.2 326.9 L1329.6 328.2 L1332.0 337.5 L1334.4 345.4 L1336.8 347.0 L1339.2 349.1 L1341.6 349.0 L1344.0 350.2 L1346.4 368.0 L1348.8 399.7 L1351.2 432.8 L1353.6 455.7 L1356.0 469.8 L1358.4 472.0 L1360.8 466.6 L1363.2 457.6 L1365.6 454.6 L1368.1 454.1 L1370.5 460.9 L1372.9 457.5 L1375.3 455.7 L1377.7 453.1 L1380.1 453.2 L1382.5 465.9 L1384.9 468.9 L1387.3 473.2 L1389.7 472.8 L1392.1 469.4 L1394.5 478.4 L1396.9 503.9 L1399.3 534.7 L1401.7 570.0 L1404.1 591.3 L1406.5 602.7 L1408.9 600.9 L1411.3 600.9 L1413.8 597.0 L1416.2 597.1 L1418.6 589.5 L1421.0 594.0 L1423.4 605.9 L1425.8 612.4 L1428.2 623.3 L1430.6 635.2 L1433.0 642.4 L1435.4 639.8 L1437.8 629.1 L1440.2 615.3 L1442.6 610.7 L1445.0 604.1 L1447.4 599.2 L1449.8 598.5 L1452.2 607.6 L1454.6 619.8 L1457.0 628.5 L1459.5 641.1 L1461.9 641.1 L1464.3 643.6 L1466.7 650.2 L1469.1 654.6 L1471.5 657.9 L1473.9 662.3 L1476.3 663.5 L1478.7 666.7 L1481.1 663.0 L1483.5 663.7 L1485.9 659.9 L1488.3 650.4 L1490.7 638.5 L1493.1 628.6 L1495.5 621.8 L1497.9 627.6 L1500.3 627.0 L1502.8 622.8 L1505.2 611.5 L1507.6 603.9 L1510.0 593.7 L1512.4 595.5 L1514.8 591.3 L1517.2 595.1 L1519.6 588.4 L1522.0 581.6 L1524.4 571.3 L1526.8 574.8 L1529.2 584.8 L1531.6 601.6 L1534.0 615.2 L1536.4 632.8 L1538.8 650.5 L1541.2 657.8 L1543.6 669.8 L1546.0 679.3 L1548.5 686.7 L1550.9 695.6 L1553.3 704.8 L1555.7 708.8 L1558.1 712.8 L1560.5 712.7 L1562.9 711.6 L1565.3 707.0 L1567.7 700.2 L1570.1 697.2 L1572.5 690.2 L1574.9 690.4 L1577.3 702.8 L1579.7 721.2 L1582.1 729.4 L1584.5 728.4 L1586.9 730.3 L1589.3 731.3 L1591.7 710.4 L1594.2 671.1 L1596.6 637.5 L1599.0 610.2 L1601.4 585.4 L1603.8 587.7 L1606.2 600.2 L1608.6 612.7 L1611.0 624.1 L1613.4 630.4 L1615.8 627.2 L1618.2 613.1 L1620.6 594.1 L1623.0 579.0 L1625.4 573.6 L1627.8 579.9 L1630.2 593.6 L1632.6 610.1 L1635.0 623.1 L1637.5 632.6 L1639.9 640.3 L1642.3 647.8 L1644.7 662.9 L1647.1 669.8 L1649.5 665.7 L1651.9 660.0 L1654.3 659.4 L1656.7 662.1 L1659.1 665.5 L1661.5 648.2 L1663.9 643.6 L1666.3 644.9 L1668.7 639.8 L1671.1 640.7 L1673.5 641.7 L1675.9 642.0 L1678.3 644.9 L1680.7 649.2 L1683.2 662.3 L1685.6 670.0 L1688.0 667.6 L1690.4 655.7 L1692.8 642.0 L1695.2 621.4 L1697.6 617.5 L1700.0 632.3 L1702.4 671.3 L1704.8 689.6 L1707.2 702.6 L1709.6 702.8 L1712.0 707.5 L1714.4 709.8 L1716.8 713.4 L1719.2 714.6 L1721.6 703.9 L1724.0 698.2 L1726.4 701.8 L1728.9 715.9 L1731.3 735.2 L1733.7 749.9 L1736.1 772.7 L1738.5 788.4 L1740.9 798.2 L1743.3 795.6 L1745.7 800.1 L1748.1 793.5 L1750.5 784.4 L1752.9 772.5 L1755.3 771.0 L1757.7 780.8 L1760.1 774.4 L1762.5 761.5 L1764.9 753.7 L1767.3 755.8 L1769.7 774.9 L1772.1 790.3 L1774.6 805.1 L1777.0 819.6 L1779.4 832.2 L1781.8 846.1 L1784.2 860.0 L1786.6 872.9 L1789.0 884.7 L1791.4 889.7 L1793.8 901.1 L1796.2 918.3 L1798.6 931.4 L1801.0 936.3 L1803.4 903.8 L1805.8 866.8 L1808.2 851.8 L1810.6 840.3 L1813.0 841.0 L1815.4 850.5 L1817.9 858.9 L1820.3 866.6 L1822.7 868.2 L1825.1 870.4 L1827.5 867.3 L1829.9 857.9 L1832.3 846.8 L1834.7 831.5 L1837.1 822.4 L1839.5 817.7 L1841.9 813.0 L1844.3 813.5 L1846.7 815.5 L1849.1 813.9 L1851.5 810.9 L1853.9 807.4 L1856.3 818.5 L1858.7 835.2 L1861.1 857.2 L1863.6 870.4 L1866.0 883.3 L1868.4 897.6 L1870.8 905.7 L1873.2 909.1 L1875.6 908.5 L1878.0 907.3 L1880.4 903.1 L1882.8 908.1 L1885.2 914.5 L1887.6 922.2 L1890.0 911.5 L1892.4 907.3 L1894.8 907.0 L1897.2 921.8 L1899.6 941.3 L1902.0 954.9 L1904.4 964.5 L1906.8 958.1 L1909.3 934.9 L1911.7 903.3 L1914.1 872.6 L1916.5 860.0 L1918.9 861.0 L1921.3 859.6 L1923.7 863.5 L1926.1 874.3 L1928.5 892.8 L1930.9 897.1 L1933.3 897.4 L1935.7 893.0 L1938.1 882.7 L1940.5 873.6 L1942.9 868.5 L1945.3 869.4 L1947.7 865.2 L1950.1 866.1 L1952.5 862.8 L1955.0 856.0 L1957.4 847.7 L1959.8 836.3 L1962.2 829.8 L1964.6 821.3 L1967.0 812.1 L1969.4 806.0 L1971.8 802.2 L1974.2 799.8 L1976.6 796.0 L1979.0 789.1 L1981.4 777.3 L1983.8 749.9 L1986.2 743.9 L1988.6 744.1 L1991.0 745.3 L1993.4 746.8 L1995.8 747.8 L1998.3 747.6 L2000.7 754.3 L2003.1 749.7 L2005.5 740.6 L2007.9 741.3 L2010.3 738.4 L2012.7 729.5 L2015.1 726.3 L2017.5 727.1 L2019.9 734.7 L2022.3 742.4 L2024.7 747.9 L2027.1 743.8 L2029.5 741.0 L2031.9 750.5 L2034.3 772.3 L2036.7 784.4 L2039.1 782.1 L2041.5 768.7 L2044.0 754.4 L2046.4 741.9 L2048.8 736.4 L2051.2 747.1 L2053.6 753.4 L2056.0 765.8 L2058.4 762.8 L2060.8 766.8 L2063.2 767.4 L2065.6 759.4 L2068.0 754.9 L2070.4 741.2 L2072.8 749.3 L2075.2 757.8 L2077.6 767.8 L2080.0 777.7 L2082.4 778.4 L2084.8 775.9 L2087.2 768.5 L2089.7 765.2 L2092.1 762.5 L2094.5 759.1 L2096.9 751.2 L2099.3 753.1 L2101.7 746.7 L2104.1 746.3 L2106.5 745.2 L2108.9 746.8 L2111.3 749.7 L2113.7 756.0 L2116.1 761.6 L2118.5 760.6 L2120.9 760.4 L2123.3 756.4 L2125.7 760.4 L2128.1 755.6 L2130.5 765.9 L2133.0 774.7 L2135.4 797.2 L2137.8 837.7 L2140.2 880.5 L2142.6 915.6 L2145.0 924.5 L2147.4 919.5 L2149.8 919.9 L2152.2 921.0 L2154.6 931.4 L2157.0 947.2 L2159.4 975.6 L2161.8 994.5 L2164.2 1008.2 L2166.6 1014.1 L2169.0 1022.8 L2171.4 1032.1 L2173.8 1034.6 L2176.2 1038.6 L2178.7 1037.4 L2181.1 1031.9 L2183.5 1027.2 L2185.9 1025.2 L2188.3 1021.2 L2190.7 1003.1 L2193.1 993.1 L2195.5 980.0 L2197.9 981.0 L2200.3 973.7 L2202.7 974.5 L2205.1 963.8 L2207.5 966.2 L2209.9 990.0 L2212.3 1003.5 L2214.7 1015.8 L2217.1 1021.5 L2219.5 1023.8 L2221.9 1024.2 L2224.4 1022.8 L2226.8 1014.7 L2229.2 1004.3 L2231.6 995.5 L2234.0 988.0 L2236.4 982.0 L2238.8 969.2 L2241.2 956.6 L2243.6 951.1 L2246.0 937.4 L2248.4 935.8 L2250.8 936.2 L2253.2 931.7 L2255.6 933.6 L2258.0 932.9 L2260.4 929.2 L2262.8 922.3 L2265.2 915.0 L2267.6 912.4 L2270.1 913.0 L2272.5 913.3 L2274.9 918.0 L2277.3 920.7 L2279.7 913.4 L2282.1 907.6 L2284.5 896.5 L2286.9 896.8 L2289.3 892.1 L2291.7 890.7 L2294.1 878.3 L2296.5 854.2 L2298.9 834.6 L2301.3 822.7 L2303.7 821.6 L2306.1 823.8 L2308.5 822.2 L2310.9 818.5 L2313.4 815.4 L2315.8 804.4 L2318.2 809.8 L2320.6 807.3 L2323.0 816.0 L2325.4 815.9 L2327.8 818.8 L2330.2 825.1 L2332.6 828.7 L2335.0 843.9 L2337.4 854.5 L2339.8 865.6 L2342.2 876.1 L2344.6 882.5 L2347.0 887.2 L2349.4 885.1 L2351.8 868.2 L2354.2 864.4 L2356.6 864.3 L2359.1 866.9 L2361.5 863.3 L2363.9 863.3 L2366.3 879.7 L2368.7 896.2 L2371.1 902.4 L2373.5 893.4 L2375.9 886.9 L2378.3 884.2 L2380.7 891.2" stroke="#00ffff" stroke-width="5" stroke-dasharray="17 15" stroke-dashoffset="24"/>
<path d="M218.3 126.5 L220.7 127.4 L223.1 134.3 L225.5 151.0 L227.9 175.5 L230.3 190.4 L232.7 192.5 L235.1 190.5 L237.5 195.2 L239.9 212.4 L242.4 230.1 L244.8 241.6 L247.2 249.6 L249.6 262.1 L252.0 273.6 L254.4 286.0 L256.8 297.6 L259.2 301.8 L261.6 304.4 L264.0 305.0 L266.4 307.4 L268.8 311.7 L271.2 317.3 L273.6 323.1 L276.0 333.4 L278.4 335.4 L280.8 329.9 L283.2 329.3 L285.6 322.8 L288.1 319.6 L290.5 330.8 L292.9 358.3 L295.3 380.3 L297.7 391.2 L300.1 390.7 L302.5 372.2 L304.9 349.0 L307.3 341.5 L309.7 338.0 L312.1 331.0 L314.5 322.5 L316.9 316.8 L319.3 307.1 L321.7 311.5 L324.1 298.5 L326.5 285.6 L328.9 270.7 L331.4 264.9 L333.8 267.4 L336.2 269.0 L338.6 276.6 L341.0 278.0 L343.4 284.2 L345.8 290.5 L348.2 309.3 L350.6 332.1 L353.0 352.4 L355.4 366.5 L357.8 378.6 L360.2 386.1 L362.6 387.9 L365.0 384.6 L367.4 382.1 L369.8 379.3 L372.2 379.3 L374.6 376.1 L377.1 373.4 L379.5 378.8 L381.9 385.1 L384.3 391.2 L386.7 402.4 L389.1 409.6 L391.5 413.8 L393.9 415.8 L396.3 410.9 L398.7 385.8 L401.1 368.0 L403.5 362.2 L405.9 361.2 L408.3 362.4 L410.7 370.5 L413.1 376.5 L415.5 375.0 L417.9 362.3 L420.3 358.1 L422.8 360.4 L425.2 369.5 L427.6 382.6 L430.0 396.2 L432.4 424.4 L434.8 444.8 L437.2 449.6 L439.6 446.5 L442.0 449.6 L444.4 459.3 L446.8 485.0 L449.2 522.6 L451.6 561.8 L454.0 595.1 L456.4 623.4 L458.8 620.9 L461.2 596.3 L463.6 563.5 L466.0 542.0 L468.5 540.3 L470.9 557.7 L473.3 573.2 L475.7 577.9 L478.1 576.3 L480.5 552.0 L482.9 521.6 L485.3 485.6 L487.7 461.0 L490.1 444.7 L492.5 436.3 L494.9 432.4 L497.3 442.2 L499.7 456.1 L502.1 458.8 L504.5 443.9 L506.9 421.8 L509.3 416.6 L511.8 428.5 L514.2 440.2 L516.6 448.9 L519.0 460.1 L521.4 464.1 L523.8 453.2 L526.2 437.4 L528.6 423.6 L531.0 418.0 L533.4 418.6 L535.8 410.7 L538.2 388.0 L540.6 371.0 L543.0 368.0 L545.4 371.4 L547.8 366.0 L550.2 371.8 L552.6 368.4 L555.0 371.4 L557.5 380.3 L559.9 380.3 L562.3 384.9 L564.7 384.5 L567.1 383.2 L569.5 380.1 L571.9 364.9 L574.3 342.9 L576.7 336.6 L579.1 335.0 L581.5 332.5 L583.9 333.0 L586.3 332.8 L588.7 334.4 L591.1 343.9 L593.5 356.2 L595.9 363.6 L598.3 381.8 L600.7 387.9 L603.2 402.8 L605.6 410.9 L608.0 416.5 L610.4 407.3 L612.8 401.8 L615.2 397.2 L617.6 387.2 L620.0 381.1 L622.4 382.1 L624.8 392.5 L627.2 401.7 L629.6 411.4 L632.0 421.7 L634.4 423.3 L636.8 417.7 L639.2 419.3 L641.6 423.8 L644.0 428.5 L646.5 421.2 L648.9 416.3 L651.3 407.8 L653.7 406.4 L656.1 408.5 L658.5 395.9 L660.9 380.7 L663.3 377.1 L665.7 367.9 L668.1 365.2 L670.5 365.5 L672.9 364.8 L675.3 364.5 L677.7 369.1 L680.1 373.7 L682.5 390.7 L684.9 403.3 L687.3 415.4 L689.7 422.6 L692.2 427.2 L694.6 430.7 L697.0 436.9 L699.4 443.4 L701.8 447.5 L704.2 461.2 L706.6 475.8 L709.0 488.3 L711.4 497.5 L713.8 509.0 L716.2 505.8 L718.6 499.1 L721.0 496.7 L723.4 500.2 L725.8 505.3 L728.2 501.4 L730.6 484.9 L733.0 472.9 L735.4 461.8 L737.9 462.9 L740.3 464.5 L742.7 465.9 L745.1 464.3 L747.5 471.0 L749.9 482.1 L752.3 504.1 L754.7 502.4 L757.1 496.9 L759.5 486.1 L761.9 473.4 L764.3 473.5 L766.7 484.8 L769.1 499.8 L771.5 509.2 L773.9 515.7 L776.3 521.2 L778.7 527.1 L781.1 535.2 L783.6 544.0 L786.0 554.6 L788.4 562.0 L790.8 565.5 L793.2 572.9 L795.6 576.4 L798.0 573.8 L800.4 572.3 L802.8 569.6 L805.2 569.9 L807.6 575.7 L810.0 586.1 L812.4 592.1 L814.8 585.3 L817.2 573.2 L819.6 571.7 L822.0 576.0 L824.4 578.2 L826.9 588.9 L829.3 599.1 L831.7 617.4 L834.1 631.1 L836.5 649.3 L838.9 653.1 L841.3 639.1 L843.7 622.9 L846.1 609.5 L848.5 587.7 L850.9 561.4 L853.3 532.4 L855.7 512.9 L858.1 500.4 L860.5 493.7 L862.9 493.9 L865.3 497.7 L867.7 493.1 L870.1 500.0 L872.6 492.8 L875.0 494.8 L877.4 490.4 L879.8 491.8 L882.2 498.4 L884.6 501.1 L887.0 503.2 L889.4 491.1 L891.8 480.2 L894.2 481.4 L896.6 487.7 L899.0 493.3 L901.4 502.1 L903.8 500.1 L906.2 502.3 L908.6 494.9 L911.0 485.7 L913.4 476.6 L915.8 466.1 L918.3 461.8 L920.7 450.0 L923.1 450.9 L925.5 457.9 L927.9 470.0 L930.3 479.9 L932.7 484.2 L935.1 483.9 L937.5 493.6 L939.9 503.4 L942.3 532.4 L944.7 546.5 L947.1 562.8 L949.5 561.0 L951.9 560.3 L954.3 562.6 L956.7 571.7 L959.1 590.4 L961.5 611.1 L964.0 628.2 L966.4 637.1 L968.8 633.8 L971.2 633.5 L973.6 636.7 L976.0 653.3 L978.4 671.0 L980.8 704.4 L983.2 703.3 L985.6 679.7 L988.0 662.1 L990.4 665.3 L992.8 658.9 L995.2 644.4 L997.6 625.8 L1000.0 614.7 L1002.4 606.4 L1004.8 597.3 L1007.3 590.4 L1009.7 584.5 L1012.1 594.3 L1014.5 613.2 L1016.9 634.8 L1019.3 640.5 L1021.7 638.2 L1024.1 623.7 L1026.5 615.0 L1028.9 608.6 L1031.3 602.9 L1033.7 607.0 L1036.1 610.6 L1038.5 620.0 L1040.9 621.9 L1043.3 617.3 L1045.7 625.2 L1048.1 630.2 L1050.5 626.9 L1053.0 635.8 L1055.4 649.1 L1057.8 657.3 L1060.2 669.4 L1062.6 671.1 L1065.0 663.5 L1067.4 649.2 L1069.8 636.5 L1072.2 624.9 L1074.6 617.3 L1077.0 615.6 L1079.4 608.1 L1081.8 588.5 L1084.2 566.4 L1086.6 554.1 L1089.0 548.4 L1091.4 557.1 L1093.8 573.8 L1096.2 576.1 L1098.7 567.4 L1101.1 550.0 L1103.5 541.4 L1105.9 539.1 L1108.3 540.3 L1110.7 536.3 L1113.1 529.5 L1115.5 522.7 L1117.9 516.1 L1120.3 503.2 L1122.7 500.4 L1125.1 492.1 L1127.5 484.4 L1129.9 477.8 L1132.3 469.3 L1134.7 470.9 L1137.1 474.0 L1139.5 478.4 L1142.0 479.9 L1144.4 482.0 L1146.8 487.9 L1149.2 485.6 L1151.6 483.7 L1154.0 465.1 L1156.4 444.7 L1158.8 427.5 L1161.2 423.6 L1163.6 429.6 L1166.0 429.1 L1168.4 429.4 L1170.8 438.0 L1173.2 444.3 L1175.6 444.1 L1178.0 441.1 L1180.4 446.2 L1182.8 446.8 L1185.2 450.6 L1187.7 460.6 L1190.1 461.3 L1192.5 458.6 L1194.9 453.7 L1197.3 446.8 L1199.7 447.0 L1202.1 441.3 L1204.5 435.6 L1206.9 431.0 L1209.3 429.2 L1211.7 432.2 L1214.1 445.5 L1216.5 446.6 L1218.9 440.3 L1221.3 422.8 L1223.7 408.0 L1226.1 391.4 L1228.5 385.3 L1230.9 388.9 L1233.4 386.0 L1235.8 383.0 L1238.2 370.7 L1240.6 360.6 L1243.0 352.9 L1245.4 347.2 L1247.8 341.6 L1250.2 338.3 L1252.6 332.1 L1255.0 326.5 L1257.4 321.6 L1259.8 315.8 L1262.2 328.8 L1264.6 329.2 L1267.0 318.8 L1269.4 318.0 L1271.8 316.3 L1274.2 324.6 L1276.6 329.7 L1279.1 333.1 L1281.5 338.5 L1283.9 340.4 L1286.3 342.5 L1288.7 344.7 L1291.1 346.5 L1293.5 360.7 L1295.9 369.1 L1298.3 375.5 L1300.7 384.3 L1303.1 387.3 L1305.5 384.9 L1307.9 377.4 L1310.3 365.4 L1312.7 344.8 L1315.1 332.6 L1317.5 324.4 L1319.9 323.4 L1322.4 322.5 L1324.8 321.9 L1327.2 321.1 L1329.6 323.4 L1332.0 332.6 L1334.4 337.2 L1336.8 341.8 L1339.2 343.0 L1341.6 345.4 L1344.0 345.0 L1346.4 363.0 L1348.8 394.7 L1351.2 424.2 L1353.6 447.7 L1356.0 465.6 L1358.4 465.2 L1360.8 459.9 L1363.2 451.6 L1365.6 448.8 L1368.1 446.2 L1370.5 452.3 L1372.9 454.6 L1375.3 450.2 L1377.7 447.5 L1380.1 446.6 L1382.5 458.0 L1384.9 464.1 L1387.3 467.4 L1389.7 466.4 L1392.1 466.5 L1394.5 469.9 L1396.9 496.3 L1399.3 529.2 L1401.7 565.2 L1404.1 589.2 L1406.5 598.8 L1408.9 595.9 L1411.3 593.7 L1413.8 592.2 L1416.2 590.7 L1418.6 582.7 L1421.0 588.4 L1423.4 600.2 L1425.8 607.0 L1428.2 614.0 L1430.6 627.9 L1433.0 636.1 L1435.4 632.3 L1437.8 622.7 L1440.2 610.0 L1442.6 602.3 L1445.0 598.9 L1447.4 592.6 L1449.8 592.6 L1452.2 601.7 L1454.6 616.0 L1457.0 620.3 L1459.5 631.0 L1461.9 630.3 L1464.3 638.7 L1466.7 643.9 L1469.1 647.5 L1471.5 650.6 L1473.9 655.9 L1476.3 655.1 L1478.7 661.1 L1481.1 658.0 L1483.5 653.7 L1485.9 653.3 L1488.3 644.1 L1490.7 631.6 L1493.1 623.7 L1495.5 618.6 L1497.9 624.3 L1500.3 621.7 L1502.8 617.9 L1505.2 603.7 L1507.6 597.8 L1510.0 590.2 L1512.4 588.8 L1514.8 587.1 L1517.2 587.0 L1519.6 581.8 L1522.0 576.9 L1524.4 565.9 L1526.8 567.0 L1529.2 581.7 L1531.6 591.9 L1534.0 610.7 L1536.4 627.7 L1538.8 645.5 L1541.2 652.7 L1543.6 663.6 L1546.0 671.4 L1548.5 682.2 L1550.9 692.5 L1553.3 697.8 L1555.7 703.0 L1558.1 708.7 L1560.5 704.3 L1562.9 702.3 L1565.3 703.4 L1567.7 695.9 L1570.1 687.4 L1572.5 681.3 L1574.9 680.1 L1577.3 700.3 L1579.7 716.0 L1582.1 722.1 L1584.5 721.6 L1586.9 723.9 L1589.3 726.0 L1591.7 703.0 L1594.2 665.0 L1596.6 631.0 L1599.0 603.7 L1601.4 579.2 L1603.8 579.7 L1606.2 594.2 L1608.6 608.1 L1611.0 615.3 L1613.4 620.4 L1615.8 621.9 L1618.2 608.6 L1620.6 587.8 L1623.0 573.4 L1625.4 563.7 L1627.8 573.2 L1630.2 586.5 L1632.6 604.0 L1635.0 616.6 L1637.5 626.8 L1639.9 636.4 L1642.3 643.1 L1644.7 657.3 L1647.1 663.9 L1649.5 660.4 L1651.9 653.8 L1654.3 653.5 L1656.7 658.5 L1659.1 656.6 L1661.5 645.2 L1663.9 633.6 L1666.3 637.1 L1668.7 634.6 L1671.1 632.8 L1673.5 633.5 L1675.9 637.2 L1678.3 638.1 L1680.7 642.3 L1683.2 656.9 L1685.6 666.8 L1688.0 659.8 L1690.4 650.2 L1692.8 636.4 L1695.2 616.4 L1697.6 614.6 L1700.0 628.9 L1702.4 665.2 L1704.8 686.9 L1707.2 692.1 L1709.6 697.6 L1712.0 700.0 L1714.4 703.0 L1716.8 708.9 L1719.2 707.0 L1721.6 701.7 L1724.0 692.8 L1726.4 696.9 L1728.9 708.0 L1731.3 729.7 L1733.7 746.5 L1736.1 764.6 L1738.5 787.8 L1740.9 791.5 L1743.3 788.6 L1745.7 794.2 L1748.1 790.3 L1750.5 778.1 L1752.9 766.6 L1755.3 769.8 L1757.7 775.6 L1760.1 765.2 L1762.5 756.3 L1764.9 750.4 L1767.3 752.3 L1769.7 770.0 L1772.1 785.6 L1774.6 801.3 L1777.0 813.9 L1779.4 824.1 L1781.8 839.7 L1784.2 851.5 L1786.6 867.0 L1789.0 882.0 L1791.4 886.3 L1793.8 894.2 L1796.2 910.7 L1798.6 925.8 L1801.0 929.5 L1803.4 896.8 L1805.8 861.5 L1808.2 845.9 L1810.6 836.4 L1813.0 833.4 L1815.4 843.2 L1817.9 850.3 L1820.3 857.6 L1822.7 865.2 L1825.1 864.9 L1827.5 862.8 L1829.9 852.5 L1832.3 841.3 L1834.7 825.8 L1837.1 816.2 L1839.5 810.4 L1841.9 808.6 L1844.3 811.8 L1846.7 808.7 L1849.1 806.7 L1851.5 807.7 L1853.9 800.6 L1856.3 809.6 L1858.7 827.5 L1861.1 850.1 L1863.6 863.2 L1866.0 876.1 L1868.4 892.6 L1870.8 897.6 L1873.2 901.3 L1875.6 900.6 L1878.0 902.2 L1880.4 895.1 L1882.8 901.6 L1885.2 910.5 L1887.6 914.1 L1890.0 906.5 L1892.4 901.2 L1894.8 900.0 L1897.2 916.1 L1899.6 934.3 L1902.0 950.4 L1904.4 961.0 L1906.8 954.9 L1909.3 930.6 L1911.7 897.0 L1914.1 866.6 L1916.5 854.7 L1918.9 851.5 L1921.3 850.7 L1923.7 855.0 L1926.1 868.6 L1928.5 886.0 L1930.9 892.3 L1933.3 890.6 L1935.7 884.6 L1938.1 877.1 L1940.5 870.6 L1942.9 863.4 L1945.3 860.8 L1947.7 859.2 L1950.1 859.2 L1952.5 859.2 L1955.0 853.6 L1957.4 843.0 L1959.8 830.3 L1962.2 822.7 L1964.6 817.0 L1967.0 805.9 L1969.4 801.3 L1971.8 795.4 L1974.2 791.7 L1976.6 790.2 L1979.0 786.5 L1981.4 770.2 L1983.8 742.3 L1986.2 737.1 L1988.6 737.4 L1991.0 741.5 L1993.4 741.4 L1995.8 745.0 L1998.3 743.5 L2000.7 746.3 L2003.1 744.3 L2005.5 734.4 L2007.9 733.8 L2010.3 730.6 L2012.7 725.7 L2015.1 719.9 L2017.5 721.0 L2019.9 729.2 L2022.3 739.2 L2024.7 742.4 L2027.1 737.0 L2029.5 736.3 L2031.9 744.9 L2034.3 767.0 L2036.7 777.3 L2039.1 775.7 L2041.5 764.4 L2044.0 747.4 L2046.4 736.5 L2048.8 729.2 L2051.2 740.2 L2053.6 747.4 L2056.0 759.3 L2058.4 760.2 L2060.8 762.0 L2063.2 760.6 L2065.6 753.5 L2068.0 748.4 L2070.4 738.5 L2072.8 742.4 L2075.2 751.2 L2077.6 762.9 L2080.0 770.6 L2082.4 770.4 L2084.8 766.2 L2087.2 762.9 L2089.7 756.8 L2092.1 754.2 L2094.5 750.4 L2096.9 745.8 L2099.3 746.0 L2101.7 738.9 L2104.1 739.4 L2106.5 741.8 L2108.9 742.2 L2111.3 744.4 L2113.7 752.4 L2116.1 754.1 L2118.5 752.1 L2120.9 757.0 L2123.3 752.9 L2125.7 755.7 L2128.1 752.1 L2130.5 759.5 L2133.0 769.7 L2135.4 790.6 L2137.8 829.5 L2140.2 876.0 L2142.6 908.8 L2145.0 918.3 L2147.4 915.4 L2149.8 918.8 L2152.2 913.7 L2154.6 925.3 L2157.0 944.9 L2159.4 970.4 L2161.8 988.0 L2164.2 1004.7 L2166.6 1009.2 L2169.0 1016.9 L2171.4 1026.0 L2173.8 1028.1 L2176.2 1035.0 L2178.7 1030.3 L2181.1 1027.8 L2183.5 1021.7 L2185.9 1022.5 L2188.3 1015.0 L2190.7 998.8 L2193.1 986.5 L2195.5 972.7 L2197.9 971.3 L2200.3 967.2 L2202.7 968.1 L2205.1 960.3 L2207.5 961.8 L2209.9 980.9 L2212.3 997.2 L2214.7 1010.2 L2217.1 1015.9 L2219.5 1017.7 L2221.9 1018.6 L2224.4 1017.4 L2226.8 1009.4 L2229.2 995.7 L2231.6 990.1 L2234.0 980.5 L2236.4 975.6 L2238.8 963.3 L2241.2 951.8 L2243.6 942.9 L2246.0 930.0 L2248.4 929.7 L2250.8 927.6 L2253.2 924.6 L2255.6 928.8 L2258.0 927.1 L2260.4 921.8 L2262.8 916.5 L2265.2 910.1 L2267.6 905.9 L2270.1 908.6 L2272.5 905.8 L2274.9 910.3 L2277.3 913.1 L2279.7 904.7 L2282.1 901.0 L2284.5 891.1 L2286.9 890.9 L2289.3 889.3 L2291.7 885.6 L2294.1 871.2 L2296.5 845.0 L2298.9 827.2 L2301.3 814.7 L2303.7 813.5 L2306.1 818.9 L2308.5 816.0 L2310.9 813.7 L2313.4 811.4 L2315.8 801.0 L2318.2 803.6 L2320.6 803.6 L2323.0 810.3 L2325.4 807.9 L2327.8 812.9 L2330.2 818.8 L2332.6 823.5 L2335.0 836.7 L2337.4 847.8 L2339.8 858.4 L2342.2 870.6 L2344.6 877.6 L2347.0 881.7 L2349.4 879.2 L2351.8 861.9 L2354.2 859.5 L2356.6 859.1 L2359.1 862.8 L2361.5 857.0 L2363.9 860.3 L2366.3 872.0 L2368.7 891.4 L2371.1 896.8 L2373.5 887.6 L2375.9 884.4 L2378.3 879.3 L2380.7 883.5" stroke="#000000" stroke-width="5" stroke-dasharray="17 15" stroke-dashoffset="6"/>
<path d="M218.8 127.5 L222.5 140.0 L227.5 192.5 L231.0 201.0 L235.0 195.0 L237.5 210.0 L241.0 245.0 L247.5 267.5 L251.0 290.0 L255.0 315.0 L260.0 319.0 L265.0 321.0 L271.0 335.0 L276.0 355.0 L282.5 340.0 L287.5 331.0 L290.0 362.5 L294.0 412.5 L297.0 420.0 L300.0 405.0 L302.5 372.5 L306.0 357.5 L310.0 352.5 L315.0 327.5 L321.0 326.0 L324.0 300.0 L327.5 277.5 L332.5 276.0 L337.5 290.0 L340.0 295.0 L344.0 297.5 L346.0 325.0 L351.0 375.0 L355.0 400.0 L359.0 419.0 L362.5 410.0 L365.0 405.0 L370.0 401.0 L376.0 396.0 L382.5 417.5 L389.0 440.0 L394.0 449.0 L397.5 405.0 L401.0 385.0 L405.0 381.0 L409.0 395.0 L412.0 407.5 L416.0 384.0 L420.0 377.0 L425.0 395.0 L429.0 425.0 L432.5 480.0 L437.5 471.0 L442.5 477.5 L446.0 530.0 L450.0 605.0 L454.0 667.5 L456.0 682.5 L460.0 630.0 L462.5 585.0 L465.0 565.0 L469.0 592.5 L472.5 617.5 L475.0 620.0 L479.0 592.5 L481.0 555.0 L485.0 492.5 L489.0 462.5 L494.0 455.0 L497.5 480.0 L500.0 505.0 L504.0 455.0 L506.0 434.0 L510.0 455.0 L515.0 490.0 L519.5 507.5 L524.0 475.0 L527.5 447.5 L532.5 456.0 L536.0 417.5 L540.0 388.0 L546.0 400.0 L551.0 394.5 L555.5 411.0 L561.0 414.0 L566.0 421.5 L570.0 400.0 L572.0 375.0 L574.0 362.5 L579.0 361.0 L582.5 362.5 L586.0 352.5 L590.0 377.0 L596.0 407.5 L601.0 435.0 L605.0 456.0 L610.0 442.5 L615.0 420.0 L619.0 405.5 L624.0 427.5 L629.0 450.0 L632.5 457.5 L637.5 451.0 L642.5 467.5 L647.5 447.5 L651.0 440.0 L656.0 439.0 L660.0 405.0 L666.0 395.0 L674.0 386.0 L679.0 407.0 L684.0 440.0 L689.0 460.0 L695.0 470.0 L701.0 485.0 L706.0 517.5 L712.5 550.0 L717.5 535.0 L720.5 531.0 L724.0 547.5 L727.5 530.0 L731.0 500.0 L735.0 487.5 L739.0 497.5 L742.5 494.0 L746.0 495.0 L750.0 537.5 L755.0 532.5 L759.0 510.0 L762.5 492.5 L766.0 525.0 L770.0 542.5 L775.0 552.5 L780.0 570.0 L785.0 592.5 L792.5 614.0 L797.5 605.0 L802.5 600.0 L806.0 612.5 L810.0 630.0 L815.0 610.0 L819.0 600.0 L824.0 615.0 L829.0 645.0 L832.5 675.0 L836.0 702.5 L840.0 675.0 L845.0 645.0 L849.0 595.0 L852.5 545.0 L856.0 525.0 L860.0 521.0 L866.0 527.5 L871.0 527.5 L876.0 519.0 L881.0 532.5 L885.0 545.0 L889.0 517.5 L892.0 506.0 L896.0 525.0 L902.5 540.0 L907.5 527.5 L912.5 505.0 L917.5 485.0 L922.5 477.5 L926.0 502.5 L930.0 514.0 L935.0 512.5 L939.0 545.0 L942.5 580.0 L946.0 599.0 L951.0 587.5 L956.0 605.0 L960.0 645.0 L964.0 677.5 L967.5 672.5 L971.0 665.0 L975.0 695.0 L979.0 740.0 L980.6 770.0 L982.5 740.0 L985.0 695.0 L989.0 697.5 L991.0 705.0 L995.0 657.5 L1000.0 632.5 L1005.0 617.5 L1009.0 610.0 L1012.5 645.0 L1016.0 676.0 L1020.0 672.5 L1025.0 645.0 L1030.0 626.0 L1035.0 645.0 L1040.0 647.5 L1045.0 660.0 L1050.0 661.0 L1055.0 695.0 L1061.0 717.5 L1066.0 682.5 L1071.0 652.5 L1076.0 647.5 L1080.0 620.0 L1084.0 582.5 L1087.5 570.0 L1091.0 600.0 L1094.5 617.5 L1099.0 582.5 L1102.5 565.0 L1107.5 572.5 L1115.0 550.0 L1122.5 520.0 L1129.0 497.5 L1132.5 490.0 L1136.0 505.0 L1140.0 506.0 L1145.0 521.0 L1150.0 515.0 L1154.0 470.0 L1157.5 442.5 L1162.5 452.5 L1167.5 452.5 L1171.0 472.5 L1177.5 466.0 L1182.5 474.0 L1187.5 490.0 L1194.0 477.5 L1200.0 469.0 L1205.0 452.5 L1209.0 450.0 L1212.5 474.0 L1217.5 467.0 L1221.0 440.0 L1225.0 400.0 L1230.0 412.5 L1234.0 407.5 L1237.5 387.5 L1242.5 367.5 L1249.0 355.0 L1254.0 337.5 L1257.5 332.5 L1261.0 350.0 L1266.0 334.0 L1269.0 332.5 L1274.0 347.5 L1280.0 357.5 L1287.5 366.0 L1292.5 385.0 L1297.5 407.5 L1301.0 420.0 L1306.0 410.0 L1310.0 380.0 L1312.5 355.0 L1316.0 340.0 L1321.0 341.0 L1326.0 337.5 L1331.0 352.5 L1335.0 362.5 L1340.0 362.5 L1344.0 370.0 L1346.0 405.0 L1349.0 455.0 L1352.5 492.5 L1355.5 505.0 L1359.0 492.5 L1364.0 475.0 L1366.0 472.5 L1371.0 486.0 L1375.0 472.0 L1378.0 465.0 L1383.0 493.0 L1388.0 488.0 L1392.5 487.0 L1395.0 517.5 L1397.5 560.0 L1399.5 590.0 L1401.5 625.0 L1405.0 640.0 L1410.0 626.0 L1414.0 622.5 L1417.5 611.0 L1421.0 627.5 L1426.0 650.0 L1431.0 675.0 L1435.0 660.0 L1439.0 637.5 L1444.0 625.0 L1449.0 616.0 L1452.5 640.0 L1457.5 665.0 L1462.5 670.0 L1467.5 685.0 L1472.5 690.0 L1477.0 699.0 L1481.0 691.0 L1485.0 690.0 L1489.0 665.0 L1492.5 650.0 L1497.5 656.0 L1502.5 645.0 L1507.5 617.5 L1512.5 620.0 L1517.5 620.0 L1521.0 595.0 L1524.5 587.5 L1527.5 607.5 L1532.5 645.0 L1537.5 680.0 L1544.0 710.0 L1550.0 732.5 L1556.0 749.0 L1562.5 742.5 L1567.5 725.0 L1572.5 707.5 L1576.0 740.0 L1579.0 762.5 L1584.0 765.0 L1589.0 771.0 L1591.0 720.0 L1595.0 657.5 L1599.0 602.5 L1601.0 597.5 L1605.0 627.5 L1609.0 652.5 L1612.0 657.5 L1616.0 650.0 L1620.0 607.5 L1624.0 586.0 L1627.5 612.5 L1632.5 650.0 L1639.0 675.0 L1644.0 704.0 L1649.0 697.5 L1654.0 690.0 L1656.0 700.0 L1661.0 672.5 L1667.5 669.0 L1674.0 672.5 L1679.0 677.5 L1684.0 707.5 L1689.0 685.0 L1692.5 655.0 L1696.0 625.0 L1699.0 670.0 L1702.5 727.5 L1705.0 732.5 L1711.0 737.5 L1716.0 752.5 L1720.0 732.5 L1724.0 724.0 L1727.5 745.0 L1731.0 782.5 L1735.0 820.0 L1737.5 837.5 L1741.0 835.0 L1745.0 841.0 L1749.0 820.0 L1752.0 802.5 L1755.0 815.0 L1757.5 817.5 L1761.0 790.0 L1764.5 780.0 L1768.0 808.0 L1772.5 840.0 L1777.5 870.0 L1782.5 900.0 L1786.0 932.5 L1790.0 937.5 L1794.0 960.0 L1797.5 995.0 L1800.0 985.0 L1802.5 935.0 L1805.0 895.0 L1809.0 877.5 L1812.5 880.0 L1816.0 902.5 L1820.0 910.0 L1824.0 922.5 L1827.5 910.0 L1831.0 885.0 L1835.0 860.0 L1840.0 852.5 L1845.0 851.0 L1850.0 846.0 L1854.0 845.0 L1857.0 870.0 L1860.0 905.0 L1864.0 930.0 L1867.5 949.0 L1871.0 961.0 L1875.0 955.0 L1879.0 942.5 L1882.5 960.0 L1885.5 966.0 L1889.0 957.0 L1893.0 945.5 L1896.0 973.0 L1900.0 1011.0 L1904.0 1027.0 L1907.5 990.0 L1910.0 940.0 L1912.5 905.0 L1916.0 894.5 L1921.0 897.0 L1924.0 907.0 L1927.0 937.5 L1930.0 947.5 L1933.0 934.0 L1938.0 919.0 L1943.0 909.0 L1948.0 905.5 L1953.0 905.0 L1956.5 883.0 L1962.5 861.0 L1968.8 841.0 L1973.8 836.0 L1977.5 836.0 L1980.0 806.0 L1983.0 776.0 L1986.0 775.0 L1988.8 782.5 L1993.8 784.0 L2000.0 787.5 L2003.8 772.5 L2010.0 767.5 L2015.0 752.5 L2018.8 770.0 L2022.5 787.5 L2026.0 775.0 L2028.8 765.0 L2031.0 800.0 L2035.0 831.0 L2038.8 812.5 L2042.5 781.0 L2046.0 762.5 L2050.0 775.0 L2053.8 800.0 L2057.5 801.0 L2063.8 797.5 L2067.5 777.5 L2070.0 770.0 L2072.5 787.5 L2076.0 804.0 L2082.5 816.0 L2087.5 797.5 L2093.8 789.0 L2100.0 777.5 L2106.0 776.0 L2111.0 786.0 L2117.5 792.5 L2121.0 786.0 L2127.5 785.0 L2131.0 800.0 L2133.8 825.0 L2136.0 861.0 L2139.0 940.0 L2142.5 967.5 L2146.0 960.0 L2150.5 952.5 L2154.0 974.0 L2157.5 1015.0 L2161.0 1048.0 L2165.5 1058.0 L2169.5 1070.0 L2173.0 1081.0 L2176.0 1080.0 L2181.0 1067.5 L2185.5 1067.0 L2189.0 1040.0 L2192.5 1015.0 L2197.0 1007.5 L2200.5 1006.5 L2204.5 989.0 L2207.5 1011.0 L2211.0 1048.5 L2214.5 1062.5 L2219.5 1064.0 L2223.0 1065.0 L2226.5 1049.0 L2231.5 1029.0 L2236.5 1010.0 L2241.0 985.0 L2245.5 965.5 L2250.5 966.0 L2255.5 970.5 L2260.0 962.5 L2264.0 945.5 L2269.0 950.5 L2273.0 951.0 L2276.5 957.0 L2280.5 941.0 L2284.5 935.0 L2288.0 937.5 L2291.5 925.0 L2295.0 886.0 L2298.0 854.0 L2301.5 850.5 L2305.5 857.5 L2309.0 851.0 L2312.0 841.0 L2316.0 837.5 L2320.0 845.0 L2325.0 850.0 L2330.0 857.5 L2333.5 880.0 L2337.0 900.0 L2341.0 917.5 L2346.0 930.0 L2350.0 905.0 L2352.0 895.0 L2356.0 900.0 L2360.0 896.0 L2363.5 900.0 L2367.0 945.0 L2371.0 932.5 L2376.0 917.5 L2379.5 927.5" stroke="#ff0000" stroke-width="4"/>
</g>
<g fill="#262626" font-size="54.4">
<text x="200.3" y="81.0" text-anchor="end">340</text>
<text x="200.3" y="291.6" text-anchor="end">320</text>
<text x="200.3" y="502.3" text-anchor="end">300</text>
<text x="200.3" y="712.9" text-anchor="end">280</text>
<text x="200.3" y="923.6" text-anchor="end">260</text>
<text x="200.3" y="1134.2" text-anchor="end">240</text>
<text x="579.5" y="1185.5" text-anchor="middle">Jan</text>
<text x="939.7" y="1185.5" text-anchor="middle">Feb</text>
<text x="1300.0" y="1185.5" text-anchor="middle">Mar</text>
<text x="1660.2" y="1185.5" text-anchor="middle">Apr</text>
<text x="2020.5" y="1185.5" text-anchor="middle">May</text>
<text x="2380.7" y="1185.5" text-anchor="middle">Jun</text>
</g>
<g fill="#262626" font-size="59.6">
<text x="1298" y="1262" text-anchor="middle">Month</text>
<text transform="translate(86 588) rotate(-90)" text-anchor="middle">MSFT closing prices</text>
</g>
<rect x="1604.5" y="82.8" width="752.7" height="261.7" fill="#fff" stroke="#262626" stroke-width="2"/>
<g font-size="48.6" fill="#000">
<path d="M1610 117.3 H1695" stroke="#0000ff" stroke-width="6" fill="none"/>
<text transform="translate(1700 136.8) scale(1 1.03)">Actual</text>
<path d="M1610 181.5 H1693" stroke="#00ff00" stroke-width="6" fill="none" stroke-dasharray="17 15.5"/>
<text transform="translate(1700 201.8) scale(1 1.03)">Delay 43</text>
<path d="M1610 246.3 H1693" stroke="#ff00ff" stroke-width="6" fill="none" stroke-dasharray="17 15.5"/>
<text transform="translate(1700 265.8) scale(1 1.03)">Delay 79</text>
<path d="M1610 310.3 H1693" stroke="#ffff00" stroke-width="6" fill="none" stroke-dasharray="17 15.5"/>
<text transform="translate(1700 330.4) scale(1 1.03)">EW</text>
<path d="M1910.6 117.3 H1993.2" stroke="#00ffff" stroke-width="6" fill="none" stroke-dasharray="17 15.5"/>
<text transform="translate(1998.5 136.8) scale(1 1.03)">INV-RMSE</text>
<path d="M1910.6 181.5 H1993.2" stroke="#000000" stroke-width="6" fill="none" stroke-dasharray="17 15.5"/>
<text transform="translate(1998.5 201.8) scale(1 1.03)" textLength="351" lengthAdjust="spacing">VAR-NO-CORR</text>
<path d="M1910.6 246.3 H1993.2" stroke="#ff0000" stroke-width="4" fill="none"/>
<text transform="translate(1998.5 265.8) scale(1 1.03)">DE</text>
</g>
</svg></body></html>
